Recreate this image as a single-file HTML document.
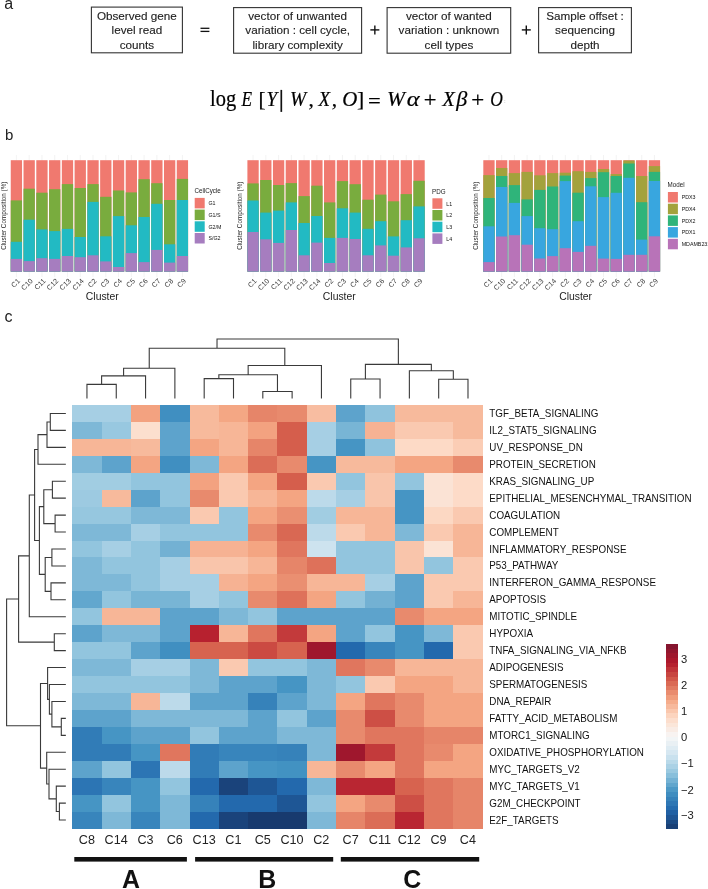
<!DOCTYPE html>
<html><head><meta charset="utf-8"><style>
html,body{margin:0;padding:0;background:#fff;}
svg{display:block;will-change:transform;}
</style></head><body>
<svg width="708" height="889" viewBox="0 0 708 889">
<rect width="708" height="889" fill="#fff"/>
<text x="4.2" y="8.9" font-size="16" font-family="Liberation Sans, sans-serif" fill="#222">a</text>
<rect x="91.4" y="7.1" width="91.0" height="45.7" fill="none" stroke="#333" stroke-width="1.1"/>
<text x="136.9" y="19.70" font-size="11.7" font-family="Liberation Sans, sans-serif" fill="#222" stroke="#222" stroke-width="0.12" text-anchor="middle">Observed gene</text>
<text x="136.9" y="34.40" font-size="11.7" font-family="Liberation Sans, sans-serif" fill="#222" stroke="#222" stroke-width="0.12" text-anchor="middle">level read</text>
<text x="136.9" y="49.10" font-size="11.7" font-family="Liberation Sans, sans-serif" fill="#222" stroke="#222" stroke-width="0.12" text-anchor="middle">counts</text>
<rect x="233.6" y="7.6" width="128.0" height="45.6" fill="none" stroke="#333" stroke-width="1.1"/>
<text x="297.6" y="19.70" font-size="11.7" font-family="Liberation Sans, sans-serif" fill="#222" stroke="#222" stroke-width="0.12" text-anchor="middle">vector of unwanted</text>
<text x="297.6" y="34.40" font-size="11.7" font-family="Liberation Sans, sans-serif" fill="#222" stroke="#222" stroke-width="0.12" text-anchor="middle">variation : cell cycle,</text>
<text x="297.6" y="49.10" font-size="11.7" font-family="Liberation Sans, sans-serif" fill="#222" stroke="#222" stroke-width="0.12" text-anchor="middle">library complexity</text>
<rect x="387.1" y="7.6" width="123.6" height="45.6" fill="none" stroke="#333" stroke-width="1.1"/>
<text x="448.9" y="19.70" font-size="11.7" font-family="Liberation Sans, sans-serif" fill="#222" stroke="#222" stroke-width="0.12" text-anchor="middle">vector of wanted</text>
<text x="448.9" y="34.40" font-size="11.7" font-family="Liberation Sans, sans-serif" fill="#222" stroke="#222" stroke-width="0.12" text-anchor="middle">variation : unknown</text>
<text x="448.9" y="49.10" font-size="11.7" font-family="Liberation Sans, sans-serif" fill="#222" stroke="#222" stroke-width="0.12" text-anchor="middle">cell types</text>
<rect x="538.6" y="7.6" width="92.8" height="45.2" fill="none" stroke="#333" stroke-width="1.1"/>
<text x="585.0" y="19.70" font-size="11.7" font-family="Liberation Sans, sans-serif" fill="#222" stroke="#222" stroke-width="0.12" text-anchor="middle">Sample offset :</text>
<text x="585.0" y="34.40" font-size="11.7" font-family="Liberation Sans, sans-serif" fill="#222" stroke="#222" stroke-width="0.12" text-anchor="middle">sequencing</text>
<text x="585.0" y="49.10" font-size="11.7" font-family="Liberation Sans, sans-serif" fill="#222" stroke="#222" stroke-width="0.12" text-anchor="middle">depth</text>
<line x1="200.5" y1="28.3" x2="209.4" y2="28.3" stroke="#111" stroke-width="1.3"/>
<line x1="200.5" y1="31.4" x2="209.4" y2="31.4" stroke="#111" stroke-width="1.3"/>
<line x1="370.35" y1="29.9" x2="379.35" y2="29.9" stroke="#111" stroke-width="1.4"/>
<line x1="374.85" y1="25.4" x2="374.85" y2="34.4" stroke="#111" stroke-width="1.4"/>
<line x1="521.8" y1="29.9" x2="530.8" y2="29.9" stroke="#111" stroke-width="1.4"/>
<line x1="526.3" y1="25.4" x2="526.3" y2="34.4" stroke="#111" stroke-width="1.4"/>
<text transform="translate(209.99,106.30) scale(0.951,1.060)" font-size="21.5" font-family="Liberation Serif, serif" fill="#000" stroke="#000" stroke-width="0.22">log</text>
<text transform="translate(241.61,106.30) scale(0.806,1.000)" font-size="21.5" font-family="Liberation Serif, serif" font-style="italic" fill="#000" stroke="#000" stroke-width="0.22">E</text>
<text transform="translate(258.41,106.30) scale(1.000,1.000)" font-size="21.5" font-family="Liberation Serif, serif" fill="#000" stroke="#000" stroke-width="0.22">[</text>
<text transform="translate(266.60,106.30) scale(0.895,1.000)" font-size="21.5" font-family="Liberation Serif, serif" font-style="italic" fill="#000" stroke="#000" stroke-width="0.22">Y</text>
<line x1="281.3" y1="89.9" x2="281.3" y2="111.9" stroke="#111" stroke-width="1.7"/>
<text transform="translate(290.01,106.30) scale(0.906,1.000)" font-size="21.5" font-family="Liberation Serif, serif" font-style="italic" fill="#000" stroke="#000" stroke-width="0.22">W</text>
<text transform="translate(308.58,106.30) scale(1.000,1.000)" font-size="21.5" font-family="Liberation Serif, serif" fill="#000" stroke="#000" stroke-width="0.22">,</text>
<text transform="translate(318.52,106.30) scale(0.875,1.000)" font-size="21.5" font-family="Liberation Serif, serif" font-style="italic" fill="#000" stroke="#000" stroke-width="0.22">X</text>
<text transform="translate(331.68,106.30) scale(1.000,1.000)" font-size="21.5" font-family="Liberation Serif, serif" fill="#000" stroke="#000" stroke-width="0.22">,</text>
<text transform="translate(342.26,106.30) scale(0.969,1.000)" font-size="21.5" font-family="Liberation Serif, serif" font-style="italic" fill="#000" stroke="#000" stroke-width="0.22">O</text>
<text transform="translate(357.03,106.30) scale(1.000,1.000)" font-size="21.5" font-family="Liberation Serif, serif" fill="#000" stroke="#000" stroke-width="0.22">]</text>
<text transform="translate(367.97,108.00) scale(1.050,1.000)" font-size="21.5" font-family="Liberation Serif, serif" fill="#000" stroke="#000" stroke-width="0.22">=</text>
<text transform="translate(386.88,106.30) scale(1.000,1.000)" font-size="21.5" font-family="Liberation Serif, serif" font-style="italic" fill="#000" stroke="#000" stroke-width="0.22">W</text>
<text transform="translate(406.77,106.30) scale(1.138,1.000)" font-size="21.5" font-family="Liberation Serif, serif" font-style="italic" fill="#000" stroke="#000" stroke-width="0.22">α</text>
<text transform="translate(423.67,107.20) scale(1.050,1.000)" font-size="21.5" font-family="Liberation Serif, serif" fill="#000" stroke="#000" stroke-width="0.22">+</text>
<text transform="translate(442.56,106.30) scale(0.930,1.000)" font-size="21.5" font-family="Liberation Serif, serif" font-style="italic" fill="#000" stroke="#000" stroke-width="0.22">X</text>
<text transform="translate(456.35,106.30) scale(1.027,1.000)" font-size="21.5" font-family="Liberation Serif, serif" font-style="italic" fill="#000" stroke="#000" stroke-width="0.22">β</text>
<text transform="translate(471.25,107.20) scale(1.070,1.000)" font-size="21.5" font-family="Liberation Serif, serif" fill="#000" stroke="#000" stroke-width="0.22">+</text>
<text transform="translate(490.13,106.30) scale(0.811,1.000)" font-size="21.5" font-family="Liberation Serif, serif" font-style="italic" fill="#000" stroke="#000" stroke-width="0.22">O</text>
<text x="504" y="103" font-size="6" font-family="Liberation Serif, serif" fill="#bbb">:</text>
<text x="5" y="139.8" font-size="15" font-family="Liberation Sans, sans-serif" fill="#222">b</text>
<line x1="16.40" y1="155" x2="16.40" y2="277" stroke="#ebebeb" stroke-width="0.6"/>
<line x1="29.17" y1="155" x2="29.17" y2="277" stroke="#ebebeb" stroke-width="0.6"/>
<line x1="41.94" y1="155" x2="41.94" y2="277" stroke="#ebebeb" stroke-width="0.6"/>
<line x1="54.71" y1="155" x2="54.71" y2="277" stroke="#ebebeb" stroke-width="0.6"/>
<line x1="67.48" y1="155" x2="67.48" y2="277" stroke="#ebebeb" stroke-width="0.6"/>
<line x1="80.25" y1="155" x2="80.25" y2="277" stroke="#ebebeb" stroke-width="0.6"/>
<line x1="93.02" y1="155" x2="93.02" y2="277" stroke="#ebebeb" stroke-width="0.6"/>
<line x1="105.79" y1="155" x2="105.79" y2="277" stroke="#ebebeb" stroke-width="0.6"/>
<line x1="118.56" y1="155" x2="118.56" y2="277" stroke="#ebebeb" stroke-width="0.6"/>
<line x1="131.33" y1="155" x2="131.33" y2="277" stroke="#ebebeb" stroke-width="0.6"/>
<line x1="144.10" y1="155" x2="144.10" y2="277" stroke="#ebebeb" stroke-width="0.6"/>
<line x1="156.87" y1="155" x2="156.87" y2="277" stroke="#ebebeb" stroke-width="0.6"/>
<line x1="169.64" y1="155" x2="169.64" y2="277" stroke="#ebebeb" stroke-width="0.6"/>
<line x1="182.41" y1="155" x2="182.41" y2="277" stroke="#ebebeb" stroke-width="0.6"/>
<rect x="10.75" y="160.20" width="11.3" height="111.40" fill="#F0796F"/>
<rect x="10.75" y="200.40" width="11.3" height="71.20" fill="#79AC3E"/>
<rect x="10.75" y="241.80" width="11.3" height="29.80" fill="#22BAC3"/>
<rect x="10.75" y="258.90" width="11.3" height="12.70" fill="#A67DBF"/>
<text transform="translate(17.10,278.1) rotate(-45)" font-size="7.1" font-family="Liberation Sans, sans-serif" fill="#3a3a3a" text-anchor="end" dominant-baseline="hanging">C1</text>
<rect x="23.52" y="160.20" width="11.3" height="111.40" fill="#F0796F"/>
<rect x="23.52" y="188.70" width="11.3" height="82.90" fill="#79AC3E"/>
<rect x="23.52" y="219.70" width="11.3" height="51.90" fill="#22BAC3"/>
<rect x="23.52" y="261.10" width="11.3" height="10.50" fill="#A67DBF"/>
<text transform="translate(29.87,278.1) rotate(-45)" font-size="7.1" font-family="Liberation Sans, sans-serif" fill="#3a3a3a" text-anchor="end" dominant-baseline="hanging">C10</text>
<rect x="36.29" y="160.20" width="11.3" height="111.40" fill="#F0796F"/>
<rect x="36.29" y="192.70" width="11.3" height="78.90" fill="#79AC3E"/>
<rect x="36.29" y="229.40" width="11.3" height="42.20" fill="#22BAC3"/>
<rect x="36.29" y="258.20" width="11.3" height="13.40" fill="#A67DBF"/>
<text transform="translate(42.64,278.1) rotate(-45)" font-size="7.1" font-family="Liberation Sans, sans-serif" fill="#3a3a3a" text-anchor="end" dominant-baseline="hanging">C11</text>
<rect x="49.06" y="160.20" width="11.3" height="111.40" fill="#F0796F"/>
<rect x="49.06" y="189.20" width="11.3" height="82.40" fill="#79AC3E"/>
<rect x="49.06" y="231.10" width="11.3" height="40.50" fill="#22BAC3"/>
<rect x="49.06" y="258.90" width="11.3" height="12.70" fill="#A67DBF"/>
<text transform="translate(55.41,278.1) rotate(-45)" font-size="7.1" font-family="Liberation Sans, sans-serif" fill="#3a3a3a" text-anchor="end" dominant-baseline="hanging">C12</text>
<rect x="61.83" y="160.20" width="11.3" height="111.40" fill="#F0796F"/>
<rect x="61.83" y="184.10" width="11.3" height="87.50" fill="#79AC3E"/>
<rect x="61.83" y="228.90" width="11.3" height="42.70" fill="#22BAC3"/>
<rect x="61.83" y="256.00" width="11.3" height="15.60" fill="#A67DBF"/>
<text transform="translate(68.18,278.1) rotate(-45)" font-size="7.1" font-family="Liberation Sans, sans-serif" fill="#3a3a3a" text-anchor="end" dominant-baseline="hanging">C13</text>
<rect x="74.60" y="160.20" width="11.3" height="111.40" fill="#F0796F"/>
<rect x="74.60" y="188.00" width="11.3" height="83.60" fill="#79AC3E"/>
<rect x="74.60" y="237.00" width="11.3" height="34.60" fill="#22BAC3"/>
<rect x="74.60" y="257.20" width="11.3" height="14.40" fill="#A67DBF"/>
<text transform="translate(80.95,278.1) rotate(-45)" font-size="7.1" font-family="Liberation Sans, sans-serif" fill="#3a3a3a" text-anchor="end" dominant-baseline="hanging">C14</text>
<rect x="87.37" y="160.20" width="11.3" height="111.40" fill="#F0796F"/>
<rect x="87.37" y="184.10" width="11.3" height="87.50" fill="#79AC3E"/>
<rect x="87.37" y="201.90" width="11.3" height="69.70" fill="#22BAC3"/>
<rect x="87.37" y="255.30" width="11.3" height="16.30" fill="#A67DBF"/>
<text transform="translate(93.72,278.1) rotate(-45)" font-size="7.1" font-family="Liberation Sans, sans-serif" fill="#3a3a3a" text-anchor="end" dominant-baseline="hanging">C2</text>
<rect x="100.14" y="160.20" width="11.3" height="111.40" fill="#F0796F"/>
<rect x="100.14" y="196.80" width="11.3" height="74.80" fill="#79AC3E"/>
<rect x="100.14" y="236.30" width="11.3" height="35.30" fill="#22BAC3"/>
<rect x="100.14" y="261.40" width="11.3" height="10.20" fill="#A67DBF"/>
<text transform="translate(106.49,278.1) rotate(-45)" font-size="7.1" font-family="Liberation Sans, sans-serif" fill="#3a3a3a" text-anchor="end" dominant-baseline="hanging">C3</text>
<rect x="112.91" y="160.20" width="11.3" height="111.40" fill="#F0796F"/>
<rect x="112.91" y="190.50" width="11.3" height="81.10" fill="#79AC3E"/>
<rect x="112.91" y="216.10" width="11.3" height="55.50" fill="#22BAC3"/>
<rect x="112.91" y="267.00" width="11.3" height="4.60" fill="#A67DBF"/>
<text transform="translate(119.26,278.1) rotate(-45)" font-size="7.1" font-family="Liberation Sans, sans-serif" fill="#3a3a3a" text-anchor="end" dominant-baseline="hanging">C4</text>
<rect x="125.68" y="160.20" width="11.3" height="111.40" fill="#F0796F"/>
<rect x="125.68" y="192.40" width="11.3" height="79.20" fill="#79AC3E"/>
<rect x="125.68" y="225.30" width="11.3" height="46.30" fill="#22BAC3"/>
<rect x="125.68" y="253.10" width="11.3" height="18.50" fill="#A67DBF"/>
<text transform="translate(132.03,278.1) rotate(-45)" font-size="7.1" font-family="Liberation Sans, sans-serif" fill="#3a3a3a" text-anchor="end" dominant-baseline="hanging">C5</text>
<rect x="138.45" y="160.20" width="11.3" height="111.40" fill="#F0796F"/>
<rect x="138.45" y="179.20" width="11.3" height="92.40" fill="#79AC3E"/>
<rect x="138.45" y="217.00" width="11.3" height="54.60" fill="#22BAC3"/>
<rect x="138.45" y="262.10" width="11.3" height="9.50" fill="#A67DBF"/>
<text transform="translate(144.80,278.1) rotate(-45)" font-size="7.1" font-family="Liberation Sans, sans-serif" fill="#3a3a3a" text-anchor="end" dominant-baseline="hanging">C6</text>
<rect x="151.22" y="160.20" width="11.3" height="111.40" fill="#F0796F"/>
<rect x="151.22" y="183.20" width="11.3" height="88.40" fill="#79AC3E"/>
<rect x="151.22" y="203.80" width="11.3" height="67.80" fill="#22BAC3"/>
<rect x="151.22" y="249.90" width="11.3" height="21.70" fill="#A67DBF"/>
<text transform="translate(157.57,278.1) rotate(-45)" font-size="7.1" font-family="Liberation Sans, sans-serif" fill="#3a3a3a" text-anchor="end" dominant-baseline="hanging">C7</text>
<rect x="163.99" y="160.20" width="11.3" height="111.40" fill="#F0796F"/>
<rect x="163.99" y="200.00" width="11.3" height="71.60" fill="#79AC3E"/>
<rect x="163.99" y="244.30" width="11.3" height="27.30" fill="#22BAC3"/>
<rect x="163.99" y="262.60" width="11.3" height="9.00" fill="#A67DBF"/>
<text transform="translate(170.34,278.1) rotate(-45)" font-size="7.1" font-family="Liberation Sans, sans-serif" fill="#3a3a3a" text-anchor="end" dominant-baseline="hanging">C8</text>
<rect x="176.76" y="160.20" width="11.3" height="111.40" fill="#F0796F"/>
<rect x="176.76" y="178.90" width="11.3" height="92.70" fill="#79AC3E"/>
<rect x="176.76" y="200.00" width="11.3" height="71.60" fill="#22BAC3"/>
<rect x="176.76" y="256.00" width="11.3" height="15.60" fill="#A67DBF"/>
<text transform="translate(183.11,278.1) rotate(-45)" font-size="7.1" font-family="Liberation Sans, sans-serif" fill="#3a3a3a" text-anchor="end" dominant-baseline="hanging">C9</text>
<text transform="translate(6.0,215.7) rotate(-90)" font-size="6.3" font-family="Liberation Sans, sans-serif" fill="#222" text-anchor="middle">Cluster Composition (%)</text>
<text x="102.3" y="299.5" font-size="10.4" font-family="Liberation Sans, sans-serif" fill="#222" text-anchor="middle">Cluster</text>
<text transform="translate(194.4,193.2) scale(0.95,1)" font-size="6.6" font-family="Liberation Sans, sans-serif" fill="#222">CellCycle</text>
<rect x="194.70000000000002" y="197.90" width="10" height="10.5" fill="#F0796F"/>
<text x="208.5" y="205.10" font-size="5.3" font-family="Liberation Sans, sans-serif" fill="#111">G1</text>
<rect x="194.70000000000002" y="209.60" width="10" height="10.5" fill="#79AC3E"/>
<text x="208.5" y="216.80" font-size="5.3" font-family="Liberation Sans, sans-serif" fill="#111">G1/S</text>
<rect x="194.70000000000002" y="221.30" width="10" height="10.5" fill="#22BAC3"/>
<text x="208.5" y="228.50" font-size="5.3" font-family="Liberation Sans, sans-serif" fill="#111">G2/M</text>
<rect x="194.70000000000002" y="233.00" width="10" height="10.5" fill="#A67DBF"/>
<text x="208.5" y="240.20" font-size="5.3" font-family="Liberation Sans, sans-serif" fill="#111">S/G2</text>
<line x1="253.05" y1="155" x2="253.05" y2="277" stroke="#ebebeb" stroke-width="0.6"/>
<line x1="265.82" y1="155" x2="265.82" y2="277" stroke="#ebebeb" stroke-width="0.6"/>
<line x1="278.59" y1="155" x2="278.59" y2="277" stroke="#ebebeb" stroke-width="0.6"/>
<line x1="291.36" y1="155" x2="291.36" y2="277" stroke="#ebebeb" stroke-width="0.6"/>
<line x1="304.13" y1="155" x2="304.13" y2="277" stroke="#ebebeb" stroke-width="0.6"/>
<line x1="316.90" y1="155" x2="316.90" y2="277" stroke="#ebebeb" stroke-width="0.6"/>
<line x1="329.67" y1="155" x2="329.67" y2="277" stroke="#ebebeb" stroke-width="0.6"/>
<line x1="342.44" y1="155" x2="342.44" y2="277" stroke="#ebebeb" stroke-width="0.6"/>
<line x1="355.21" y1="155" x2="355.21" y2="277" stroke="#ebebeb" stroke-width="0.6"/>
<line x1="367.98" y1="155" x2="367.98" y2="277" stroke="#ebebeb" stroke-width="0.6"/>
<line x1="380.75" y1="155" x2="380.75" y2="277" stroke="#ebebeb" stroke-width="0.6"/>
<line x1="393.52" y1="155" x2="393.52" y2="277" stroke="#ebebeb" stroke-width="0.6"/>
<line x1="406.29" y1="155" x2="406.29" y2="277" stroke="#ebebeb" stroke-width="0.6"/>
<line x1="419.06" y1="155" x2="419.06" y2="277" stroke="#ebebeb" stroke-width="0.6"/>
<rect x="247.40" y="160.20" width="11.3" height="111.40" fill="#F0796F"/>
<rect x="247.40" y="183.40" width="11.3" height="88.20" fill="#79AC3E"/>
<rect x="247.40" y="200.50" width="11.3" height="71.10" fill="#22BAC3"/>
<rect x="247.40" y="232.00" width="11.3" height="39.60" fill="#A67DBF"/>
<text transform="translate(253.75,278.1) rotate(-45)" font-size="7.1" font-family="Liberation Sans, sans-serif" fill="#3a3a3a" text-anchor="end" dominant-baseline="hanging">C1</text>
<rect x="260.17" y="160.20" width="11.3" height="111.40" fill="#F0796F"/>
<rect x="260.17" y="180.00" width="11.3" height="91.60" fill="#79AC3E"/>
<rect x="260.17" y="212.60" width="11.3" height="59.00" fill="#22BAC3"/>
<rect x="260.17" y="239.30" width="11.3" height="32.30" fill="#A67DBF"/>
<text transform="translate(266.52,278.1) rotate(-45)" font-size="7.1" font-family="Liberation Sans, sans-serif" fill="#3a3a3a" text-anchor="end" dominant-baseline="hanging">C10</text>
<rect x="272.94" y="160.20" width="11.3" height="111.40" fill="#F0796F"/>
<rect x="272.94" y="185.00" width="11.3" height="86.60" fill="#79AC3E"/>
<rect x="272.94" y="210.60" width="11.3" height="61.00" fill="#22BAC3"/>
<rect x="272.94" y="242.90" width="11.3" height="28.70" fill="#A67DBF"/>
<text transform="translate(279.29,278.1) rotate(-45)" font-size="7.1" font-family="Liberation Sans, sans-serif" fill="#3a3a3a" text-anchor="end" dominant-baseline="hanging">C11</text>
<rect x="285.71" y="160.20" width="11.3" height="111.40" fill="#F0796F"/>
<rect x="285.71" y="183.10" width="11.3" height="88.50" fill="#79AC3E"/>
<rect x="285.71" y="202.40" width="11.3" height="69.20" fill="#22BAC3"/>
<rect x="285.71" y="230.00" width="11.3" height="41.60" fill="#A67DBF"/>
<text transform="translate(292.06,278.1) rotate(-45)" font-size="7.1" font-family="Liberation Sans, sans-serif" fill="#3a3a3a" text-anchor="end" dominant-baseline="hanging">C12</text>
<rect x="298.48" y="160.20" width="11.3" height="111.40" fill="#F0796F"/>
<rect x="298.48" y="196.10" width="11.3" height="75.50" fill="#79AC3E"/>
<rect x="298.48" y="223.00" width="11.3" height="48.60" fill="#22BAC3"/>
<rect x="298.48" y="255.30" width="11.3" height="16.30" fill="#A67DBF"/>
<text transform="translate(304.83,278.1) rotate(-45)" font-size="7.1" font-family="Liberation Sans, sans-serif" fill="#3a3a3a" text-anchor="end" dominant-baseline="hanging">C13</text>
<rect x="311.25" y="160.20" width="11.3" height="111.40" fill="#F0796F"/>
<rect x="311.25" y="185.70" width="11.3" height="85.90" fill="#79AC3E"/>
<rect x="311.25" y="216.00" width="11.3" height="55.60" fill="#22BAC3"/>
<rect x="311.25" y="242.60" width="11.3" height="29.00" fill="#A67DBF"/>
<text transform="translate(317.60,278.1) rotate(-45)" font-size="7.1" font-family="Liberation Sans, sans-serif" fill="#3a3a3a" text-anchor="end" dominant-baseline="hanging">C14</text>
<rect x="324.02" y="160.20" width="11.3" height="111.40" fill="#F0796F"/>
<rect x="324.02" y="202.40" width="11.3" height="69.20" fill="#79AC3E"/>
<rect x="324.02" y="237.90" width="11.3" height="33.70" fill="#22BAC3"/>
<rect x="324.02" y="263.00" width="11.3" height="8.60" fill="#A67DBF"/>
<text transform="translate(330.37,278.1) rotate(-45)" font-size="7.1" font-family="Liberation Sans, sans-serif" fill="#3a3a3a" text-anchor="end" dominant-baseline="hanging">C2</text>
<rect x="336.79" y="160.20" width="11.3" height="111.40" fill="#F0796F"/>
<rect x="336.79" y="181.10" width="11.3" height="90.50" fill="#79AC3E"/>
<rect x="336.79" y="208.30" width="11.3" height="63.30" fill="#22BAC3"/>
<rect x="336.79" y="237.90" width="11.3" height="33.70" fill="#A67DBF"/>
<text transform="translate(343.14,278.1) rotate(-45)" font-size="7.1" font-family="Liberation Sans, sans-serif" fill="#3a3a3a" text-anchor="end" dominant-baseline="hanging">C3</text>
<rect x="349.56" y="160.20" width="11.3" height="111.40" fill="#F0796F"/>
<rect x="349.56" y="184.20" width="11.3" height="87.40" fill="#79AC3E"/>
<rect x="349.56" y="212.60" width="11.3" height="59.00" fill="#22BAC3"/>
<rect x="349.56" y="239.00" width="11.3" height="32.60" fill="#A67DBF"/>
<text transform="translate(355.91,278.1) rotate(-45)" font-size="7.1" font-family="Liberation Sans, sans-serif" fill="#3a3a3a" text-anchor="end" dominant-baseline="hanging">C4</text>
<rect x="362.33" y="160.20" width="11.3" height="111.40" fill="#F0796F"/>
<rect x="362.33" y="199.70" width="11.3" height="71.90" fill="#79AC3E"/>
<rect x="362.33" y="228.80" width="11.3" height="42.80" fill="#22BAC3"/>
<rect x="362.33" y="255.30" width="11.3" height="16.30" fill="#A67DBF"/>
<text transform="translate(368.68,278.1) rotate(-45)" font-size="7.1" font-family="Liberation Sans, sans-serif" fill="#3a3a3a" text-anchor="end" dominant-baseline="hanging">C5</text>
<rect x="375.10" y="160.20" width="11.3" height="111.40" fill="#F0796F"/>
<rect x="375.10" y="194.60" width="11.3" height="77.00" fill="#79AC3E"/>
<rect x="375.10" y="221.20" width="11.3" height="50.40" fill="#22BAC3"/>
<rect x="375.10" y="245.40" width="11.3" height="26.20" fill="#A67DBF"/>
<text transform="translate(381.45,278.1) rotate(-45)" font-size="7.1" font-family="Liberation Sans, sans-serif" fill="#3a3a3a" text-anchor="end" dominant-baseline="hanging">C6</text>
<rect x="387.87" y="160.20" width="11.3" height="111.40" fill="#F0796F"/>
<rect x="387.87" y="201.30" width="11.3" height="70.30" fill="#79AC3E"/>
<rect x="387.87" y="236.40" width="11.3" height="35.20" fill="#22BAC3"/>
<rect x="387.87" y="255.70" width="11.3" height="15.90" fill="#A67DBF"/>
<text transform="translate(394.22,278.1) rotate(-45)" font-size="7.1" font-family="Liberation Sans, sans-serif" fill="#3a3a3a" text-anchor="end" dominant-baseline="hanging">C7</text>
<rect x="400.64" y="160.20" width="11.3" height="111.40" fill="#F0796F"/>
<rect x="400.64" y="194.10" width="11.3" height="77.50" fill="#79AC3E"/>
<rect x="400.64" y="220.20" width="11.3" height="51.40" fill="#22BAC3"/>
<rect x="400.64" y="247.40" width="11.3" height="24.20" fill="#A67DBF"/>
<text transform="translate(406.99,278.1) rotate(-45)" font-size="7.1" font-family="Liberation Sans, sans-serif" fill="#3a3a3a" text-anchor="end" dominant-baseline="hanging">C8</text>
<rect x="413.41" y="160.20" width="11.3" height="111.40" fill="#F0796F"/>
<rect x="413.41" y="180.80" width="11.3" height="90.80" fill="#79AC3E"/>
<rect x="413.41" y="206.40" width="11.3" height="65.20" fill="#22BAC3"/>
<rect x="413.41" y="238.30" width="11.3" height="33.30" fill="#A67DBF"/>
<text transform="translate(419.76,278.1) rotate(-45)" font-size="7.1" font-family="Liberation Sans, sans-serif" fill="#3a3a3a" text-anchor="end" dominant-baseline="hanging">C9</text>
<text transform="translate(242.0,215.7) rotate(-90)" font-size="6.3" font-family="Liberation Sans, sans-serif" fill="#222" text-anchor="middle">Cluster Composition (%)</text>
<text x="339.3" y="299.5" font-size="10.4" font-family="Liberation Sans, sans-serif" fill="#222" text-anchor="middle">Cluster</text>
<text transform="translate(432.1,193.6) scale(0.95,1)" font-size="6.6" font-family="Liberation Sans, sans-serif" fill="#222">PDG</text>
<rect x="432.40000000000003" y="198.30" width="10" height="10.5" fill="#F0796F"/>
<text x="446.20000000000005" y="205.50" font-size="5.3" font-family="Liberation Sans, sans-serif" fill="#111">L1</text>
<rect x="432.40000000000003" y="210.00" width="10" height="10.5" fill="#79AC3E"/>
<text x="446.20000000000005" y="217.20" font-size="5.3" font-family="Liberation Sans, sans-serif" fill="#111">L2</text>
<rect x="432.40000000000003" y="221.70" width="10" height="10.5" fill="#22BAC3"/>
<text x="446.20000000000005" y="228.90" font-size="5.3" font-family="Liberation Sans, sans-serif" fill="#111">L3</text>
<rect x="432.40000000000003" y="233.40" width="10" height="10.5" fill="#A67DBF"/>
<text x="446.20000000000005" y="240.60" font-size="5.3" font-family="Liberation Sans, sans-serif" fill="#111">L4</text>
<line x1="488.95" y1="155" x2="488.95" y2="277" stroke="#ebebeb" stroke-width="0.6"/>
<line x1="501.68" y1="155" x2="501.68" y2="277" stroke="#ebebeb" stroke-width="0.6"/>
<line x1="514.41" y1="155" x2="514.41" y2="277" stroke="#ebebeb" stroke-width="0.6"/>
<line x1="527.14" y1="155" x2="527.14" y2="277" stroke="#ebebeb" stroke-width="0.6"/>
<line x1="539.87" y1="155" x2="539.87" y2="277" stroke="#ebebeb" stroke-width="0.6"/>
<line x1="552.60" y1="155" x2="552.60" y2="277" stroke="#ebebeb" stroke-width="0.6"/>
<line x1="565.33" y1="155" x2="565.33" y2="277" stroke="#ebebeb" stroke-width="0.6"/>
<line x1="578.06" y1="155" x2="578.06" y2="277" stroke="#ebebeb" stroke-width="0.6"/>
<line x1="590.79" y1="155" x2="590.79" y2="277" stroke="#ebebeb" stroke-width="0.6"/>
<line x1="603.52" y1="155" x2="603.52" y2="277" stroke="#ebebeb" stroke-width="0.6"/>
<line x1="616.25" y1="155" x2="616.25" y2="277" stroke="#ebebeb" stroke-width="0.6"/>
<line x1="628.98" y1="155" x2="628.98" y2="277" stroke="#ebebeb" stroke-width="0.6"/>
<line x1="641.71" y1="155" x2="641.71" y2="277" stroke="#ebebeb" stroke-width="0.6"/>
<line x1="654.44" y1="155" x2="654.44" y2="277" stroke="#ebebeb" stroke-width="0.6"/>
<rect x="483.30" y="160.20" width="11.3" height="111.40" fill="#F0796F"/>
<rect x="483.30" y="175.10" width="11.3" height="96.50" fill="#A3A23C"/>
<rect x="483.30" y="198.00" width="11.3" height="73.60" fill="#2FB47A"/>
<rect x="483.30" y="226.30" width="11.3" height="45.30" fill="#38A6DF"/>
<rect x="483.30" y="262.10" width="11.3" height="9.50" fill="#B873B8"/>
<text transform="translate(489.65,278.1) rotate(-45)" font-size="7.1" font-family="Liberation Sans, sans-serif" fill="#3a3a3a" text-anchor="end" dominant-baseline="hanging">C1</text>
<rect x="496.03" y="160.20" width="11.3" height="111.40" fill="#F0796F"/>
<rect x="496.03" y="168.00" width="11.3" height="103.60" fill="#A3A23C"/>
<rect x="496.03" y="176.00" width="11.3" height="95.60" fill="#2FB47A"/>
<rect x="496.03" y="187.00" width="11.3" height="84.60" fill="#38A6DF"/>
<rect x="496.03" y="236.50" width="11.3" height="35.10" fill="#B873B8"/>
<text transform="translate(502.38,278.1) rotate(-45)" font-size="7.1" font-family="Liberation Sans, sans-serif" fill="#3a3a3a" text-anchor="end" dominant-baseline="hanging">C10</text>
<rect x="508.76" y="160.20" width="11.3" height="111.40" fill="#F0796F"/>
<rect x="508.76" y="173.10" width="11.3" height="98.50" fill="#A3A23C"/>
<rect x="508.76" y="185.10" width="11.3" height="86.50" fill="#2FB47A"/>
<rect x="508.76" y="202.90" width="11.3" height="68.70" fill="#38A6DF"/>
<rect x="508.76" y="235.20" width="11.3" height="36.40" fill="#B873B8"/>
<text transform="translate(515.11,278.1) rotate(-45)" font-size="7.1" font-family="Liberation Sans, sans-serif" fill="#3a3a3a" text-anchor="end" dominant-baseline="hanging">C11</text>
<rect x="521.49" y="160.20" width="11.3" height="111.40" fill="#F0796F"/>
<rect x="521.49" y="171.90" width="11.3" height="99.70" fill="#A3A23C"/>
<rect x="521.49" y="199.40" width="11.3" height="72.20" fill="#2FB47A"/>
<rect x="521.49" y="216.10" width="11.3" height="55.50" fill="#38A6DF"/>
<rect x="521.49" y="244.70" width="11.3" height="26.90" fill="#B873B8"/>
<text transform="translate(527.84,278.1) rotate(-45)" font-size="7.1" font-family="Liberation Sans, sans-serif" fill="#3a3a3a" text-anchor="end" dominant-baseline="hanging">C12</text>
<rect x="534.22" y="160.20" width="11.3" height="111.40" fill="#F0796F"/>
<rect x="534.22" y="175.30" width="11.3" height="96.30" fill="#A3A23C"/>
<rect x="534.22" y="189.90" width="11.3" height="81.70" fill="#2FB47A"/>
<rect x="534.22" y="228.20" width="11.3" height="43.40" fill="#38A6DF"/>
<rect x="534.22" y="258.50" width="11.3" height="13.10" fill="#B873B8"/>
<text transform="translate(540.57,278.1) rotate(-45)" font-size="7.1" font-family="Liberation Sans, sans-serif" fill="#3a3a3a" text-anchor="end" dominant-baseline="hanging">C13</text>
<rect x="546.95" y="160.20" width="11.3" height="111.40" fill="#F0796F"/>
<rect x="546.95" y="173.10" width="11.3" height="98.50" fill="#A3A23C"/>
<rect x="546.95" y="186.50" width="11.3" height="85.10" fill="#2FB47A"/>
<rect x="546.95" y="229.20" width="11.3" height="42.40" fill="#38A6DF"/>
<rect x="546.95" y="256.10" width="11.3" height="15.50" fill="#B873B8"/>
<text transform="translate(553.30,278.1) rotate(-45)" font-size="7.1" font-family="Liberation Sans, sans-serif" fill="#3a3a3a" text-anchor="end" dominant-baseline="hanging">C14</text>
<rect x="559.68" y="160.20" width="11.3" height="111.40" fill="#F0796F"/>
<rect x="559.68" y="172.70" width="11.3" height="98.90" fill="#A3A23C"/>
<rect x="559.68" y="175.60" width="11.3" height="96.00" fill="#2FB47A"/>
<rect x="559.68" y="181.10" width="11.3" height="90.50" fill="#38A6DF"/>
<rect x="559.68" y="248.20" width="11.3" height="23.40" fill="#B873B8"/>
<text transform="translate(566.03,278.1) rotate(-45)" font-size="7.1" font-family="Liberation Sans, sans-serif" fill="#3a3a3a" text-anchor="end" dominant-baseline="hanging">C2</text>
<rect x="572.41" y="160.20" width="11.3" height="111.40" fill="#F0796F"/>
<rect x="572.41" y="171.20" width="11.3" height="100.40" fill="#A3A23C"/>
<rect x="572.41" y="192.70" width="11.3" height="78.90" fill="#2FB47A"/>
<rect x="572.41" y="221.20" width="11.3" height="50.40" fill="#38A6DF"/>
<rect x="572.41" y="251.90" width="11.3" height="19.70" fill="#B873B8"/>
<text transform="translate(578.76,278.1) rotate(-45)" font-size="7.1" font-family="Liberation Sans, sans-serif" fill="#3a3a3a" text-anchor="end" dominant-baseline="hanging">C3</text>
<rect x="585.14" y="160.20" width="11.3" height="111.40" fill="#F0796F"/>
<rect x="585.14" y="171.90" width="11.3" height="99.70" fill="#A3A23C"/>
<rect x="585.14" y="178.10" width="11.3" height="93.50" fill="#2FB47A"/>
<rect x="585.14" y="186.30" width="11.3" height="85.30" fill="#38A6DF"/>
<rect x="585.14" y="245.80" width="11.3" height="25.80" fill="#B873B8"/>
<text transform="translate(591.49,278.1) rotate(-45)" font-size="7.1" font-family="Liberation Sans, sans-serif" fill="#3a3a3a" text-anchor="end" dominant-baseline="hanging">C4</text>
<rect x="597.87" y="160.20" width="11.3" height="111.40" fill="#F0796F"/>
<rect x="597.87" y="169.00" width="11.3" height="102.60" fill="#A3A23C"/>
<rect x="597.87" y="172.20" width="11.3" height="99.40" fill="#2FB47A"/>
<rect x="597.87" y="197.10" width="11.3" height="74.50" fill="#38A6DF"/>
<rect x="597.87" y="258.60" width="11.3" height="13.00" fill="#B873B8"/>
<text transform="translate(604.22,278.1) rotate(-45)" font-size="7.1" font-family="Liberation Sans, sans-serif" fill="#3a3a3a" text-anchor="end" dominant-baseline="hanging">C5</text>
<rect x="610.60" y="160.20" width="11.3" height="111.40" fill="#F0796F"/>
<rect x="610.60" y="174.10" width="11.3" height="97.50" fill="#A3A23C"/>
<rect x="610.60" y="176.00" width="11.3" height="95.60" fill="#2FB47A"/>
<rect x="610.60" y="192.80" width="11.3" height="78.80" fill="#38A6DF"/>
<rect x="610.60" y="258.90" width="11.3" height="12.70" fill="#B873B8"/>
<text transform="translate(616.95,278.1) rotate(-45)" font-size="7.1" font-family="Liberation Sans, sans-serif" fill="#3a3a3a" text-anchor="end" dominant-baseline="hanging">C6</text>
<rect x="623.33" y="160.20" width="11.3" height="111.40" fill="#F0796F"/>
<rect x="623.33" y="160.50" width="11.3" height="111.10" fill="#A3A23C"/>
<rect x="623.33" y="163.50" width="11.3" height="108.10" fill="#2FB47A"/>
<rect x="623.33" y="177.80" width="11.3" height="93.80" fill="#38A6DF"/>
<rect x="623.33" y="254.80" width="11.3" height="16.80" fill="#B873B8"/>
<text transform="translate(629.68,278.1) rotate(-45)" font-size="7.1" font-family="Liberation Sans, sans-serif" fill="#3a3a3a" text-anchor="end" dominant-baseline="hanging">C7</text>
<rect x="636.06" y="160.20" width="11.3" height="111.40" fill="#F0796F"/>
<rect x="636.06" y="176.00" width="11.3" height="95.60" fill="#A3A23C"/>
<rect x="636.06" y="202.20" width="11.3" height="69.40" fill="#2FB47A"/>
<rect x="636.06" y="239.60" width="11.3" height="32.00" fill="#38A6DF"/>
<rect x="636.06" y="254.80" width="11.3" height="16.80" fill="#B873B8"/>
<text transform="translate(642.41,278.1) rotate(-45)" font-size="7.1" font-family="Liberation Sans, sans-serif" fill="#3a3a3a" text-anchor="end" dominant-baseline="hanging">C8</text>
<rect x="648.79" y="160.20" width="11.3" height="111.40" fill="#F0796F"/>
<rect x="648.79" y="166.10" width="11.3" height="105.50" fill="#A3A23C"/>
<rect x="648.79" y="171.90" width="11.3" height="99.70" fill="#2FB47A"/>
<rect x="648.79" y="181.00" width="11.3" height="90.60" fill="#38A6DF"/>
<rect x="648.79" y="236.30" width="11.3" height="35.30" fill="#B873B8"/>
<text transform="translate(655.14,278.1) rotate(-45)" font-size="7.1" font-family="Liberation Sans, sans-serif" fill="#3a3a3a" text-anchor="end" dominant-baseline="hanging">C9</text>
<text transform="translate(478.2,215.7) rotate(-90)" font-size="6.3" font-family="Liberation Sans, sans-serif" fill="#222" text-anchor="middle">Cluster Composition (%)</text>
<text x="575.6" y="299.5" font-size="10.4" font-family="Liberation Sans, sans-serif" fill="#222" text-anchor="middle">Cluster</text>
<text transform="translate(667.6,187.3) scale(0.95,1)" font-size="6.6" font-family="Liberation Sans, sans-serif" fill="#222">Model</text>
<rect x="667.9" y="192.00" width="10" height="10.5" fill="#F0796F"/>
<text x="681.7" y="199.20" font-size="5.3" font-family="Liberation Sans, sans-serif" fill="#111">PDX3</text>
<rect x="667.9" y="203.70" width="10" height="10.5" fill="#A3A23C"/>
<text x="681.7" y="210.90" font-size="5.3" font-family="Liberation Sans, sans-serif" fill="#111">PDX4</text>
<rect x="667.9" y="215.40" width="10" height="10.5" fill="#2FB47A"/>
<text x="681.7" y="222.60" font-size="5.3" font-family="Liberation Sans, sans-serif" fill="#111">PDX2</text>
<rect x="667.9" y="227.10" width="10" height="10.5" fill="#38A6DF"/>
<text x="681.7" y="234.30" font-size="5.3" font-family="Liberation Sans, sans-serif" fill="#111">PDX1</text>
<rect x="667.9" y="238.80" width="10" height="10.5" fill="#B873B8"/>
<text x="681.7" y="246.00" font-size="5.3" font-family="Liberation Sans, sans-serif" fill="#111">MDAMB231</text>
<text x="4.5" y="322" font-size="16" font-family="Liberation Sans, sans-serif" fill="#222">c</text>
<rect x="72.30" y="405.00" width="29.61" height="17.24" fill="#a6cfe4" shape-rendering="crispEdges"/>
<rect x="101.61" y="405.00" width="29.61" height="17.24" fill="#a6cfe4" shape-rendering="crispEdges"/>
<rect x="130.92" y="405.00" width="29.61" height="17.24" fill="#f3a280" shape-rendering="crispEdges"/>
<rect x="160.23" y="405.00" width="29.61" height="17.24" fill="#408fc1" shape-rendering="crispEdges"/>
<rect x="189.54" y="405.00" width="29.61" height="17.24" fill="#f7ba9c" shape-rendering="crispEdges"/>
<rect x="218.85" y="405.00" width="29.61" height="17.24" fill="#f4a784" shape-rendering="crispEdges"/>
<rect x="248.16" y="405.00" width="29.61" height="17.24" fill="#e68569" shape-rendering="crispEdges"/>
<rect x="277.47" y="405.00" width="29.61" height="17.24" fill="#e88a6d" shape-rendering="crispEdges"/>
<rect x="306.78" y="405.00" width="29.61" height="17.24" fill="#f8bda1" shape-rendering="crispEdges"/>
<rect x="336.09" y="405.00" width="29.61" height="17.24" fill="#5da3cc" shape-rendering="crispEdges"/>
<rect x="365.40" y="405.00" width="29.61" height="17.24" fill="#8fc3dd" shape-rendering="crispEdges"/>
<rect x="394.71" y="405.00" width="29.61" height="17.24" fill="#f7ba9c" shape-rendering="crispEdges"/>
<rect x="424.02" y="405.00" width="29.61" height="17.24" fill="#f7ba9c" shape-rendering="crispEdges"/>
<rect x="453.33" y="405.00" width="29.61" height="17.24" fill="#f7ba9c" shape-rendering="crispEdges"/>
<rect x="72.30" y="421.94" width="29.61" height="17.24" fill="#7eb8d7" shape-rendering="crispEdges"/>
<rect x="101.61" y="421.94" width="29.61" height="17.24" fill="#98c8e0" shape-rendering="crispEdges"/>
<rect x="130.92" y="421.94" width="29.61" height="17.24" fill="#fcdfce" shape-rendering="crispEdges"/>
<rect x="160.23" y="421.94" width="29.61" height="17.24" fill="#5da3cc" shape-rendering="crispEdges"/>
<rect x="189.54" y="421.94" width="29.61" height="17.24" fill="#f7ba9c" shape-rendering="crispEdges"/>
<rect x="218.85" y="421.94" width="29.61" height="17.24" fill="#f7b697" shape-rendering="crispEdges"/>
<rect x="248.16" y="421.94" width="29.61" height="17.24" fill="#f3a280" shape-rendering="crispEdges"/>
<rect x="277.47" y="421.94" width="29.61" height="17.24" fill="#d55e4c" shape-rendering="crispEdges"/>
<rect x="306.78" y="421.94" width="29.61" height="17.24" fill="#a6cfe4" shape-rendering="crispEdges"/>
<rect x="336.09" y="421.94" width="29.61" height="17.24" fill="#78b5d5" shape-rendering="crispEdges"/>
<rect x="365.40" y="421.94" width="29.61" height="17.24" fill="#f6b293" shape-rendering="crispEdges"/>
<rect x="394.71" y="421.94" width="29.61" height="17.24" fill="#fac9b0" shape-rendering="crispEdges"/>
<rect x="424.02" y="421.94" width="29.61" height="17.24" fill="#fac9b0" shape-rendering="crispEdges"/>
<rect x="453.33" y="421.94" width="29.61" height="17.24" fill="#f7ba9c" shape-rendering="crispEdges"/>
<rect x="72.30" y="438.88" width="29.61" height="17.24" fill="#f7b697" shape-rendering="crispEdges"/>
<rect x="101.61" y="438.88" width="29.61" height="17.24" fill="#f7b697" shape-rendering="crispEdges"/>
<rect x="130.92" y="438.88" width="29.61" height="17.24" fill="#f7ba9c" shape-rendering="crispEdges"/>
<rect x="160.23" y="438.88" width="29.61" height="17.24" fill="#5da3cc" shape-rendering="crispEdges"/>
<rect x="189.54" y="438.88" width="29.61" height="17.24" fill="#f4a582" shape-rendering="crispEdges"/>
<rect x="218.85" y="438.88" width="29.61" height="17.24" fill="#f7b697" shape-rendering="crispEdges"/>
<rect x="248.16" y="438.88" width="29.61" height="17.24" fill="#e68569" shape-rendering="crispEdges"/>
<rect x="277.47" y="438.88" width="29.61" height="17.24" fill="#d55e4c" shape-rendering="crispEdges"/>
<rect x="306.78" y="438.88" width="29.61" height="17.24" fill="#a6cfe4" shape-rendering="crispEdges"/>
<rect x="336.09" y="438.88" width="29.61" height="17.24" fill="#4695c4" shape-rendering="crispEdges"/>
<rect x="365.40" y="438.88" width="29.61" height="17.24" fill="#8fc3dd" shape-rendering="crispEdges"/>
<rect x="394.71" y="438.88" width="29.61" height="17.24" fill="#fddac6" shape-rendering="crispEdges"/>
<rect x="424.02" y="438.88" width="29.61" height="17.24" fill="#fddac6" shape-rendering="crispEdges"/>
<rect x="453.33" y="438.88" width="29.61" height="17.24" fill="#fbcdb5" shape-rendering="crispEdges"/>
<rect x="72.30" y="455.82" width="29.61" height="17.24" fill="#7eb8d7" shape-rendering="crispEdges"/>
<rect x="101.61" y="455.82" width="29.61" height="17.24" fill="#5da3cc" shape-rendering="crispEdges"/>
<rect x="130.92" y="455.82" width="29.61" height="17.24" fill="#f4a582" shape-rendering="crispEdges"/>
<rect x="160.23" y="455.82" width="29.61" height="17.24" fill="#408fc1" shape-rendering="crispEdges"/>
<rect x="189.54" y="455.82" width="29.61" height="17.24" fill="#7eb8d7" shape-rendering="crispEdges"/>
<rect x="218.85" y="455.82" width="29.61" height="17.24" fill="#f4a582" shape-rendering="crispEdges"/>
<rect x="248.16" y="455.82" width="29.61" height="17.24" fill="#db6d57" shape-rendering="crispEdges"/>
<rect x="277.47" y="455.82" width="29.61" height="17.24" fill="#e88a6d" shape-rendering="crispEdges"/>
<rect x="306.78" y="455.82" width="29.61" height="17.24" fill="#4695c4" shape-rendering="crispEdges"/>
<rect x="336.09" y="455.82" width="29.61" height="17.24" fill="#f7ba9c" shape-rendering="crispEdges"/>
<rect x="365.40" y="455.82" width="29.61" height="17.24" fill="#f7ba9c" shape-rendering="crispEdges"/>
<rect x="394.71" y="455.82" width="29.61" height="17.24" fill="#f4a582" shape-rendering="crispEdges"/>
<rect x="424.02" y="455.82" width="29.61" height="17.24" fill="#f4a582" shape-rendering="crispEdges"/>
<rect x="453.33" y="455.82" width="29.61" height="17.24" fill="#e88a6d" shape-rendering="crispEdges"/>
<rect x="72.30" y="472.76" width="29.61" height="17.24" fill="#a1cde2" shape-rendering="crispEdges"/>
<rect x="101.61" y="472.76" width="29.61" height="17.24" fill="#a1cde2" shape-rendering="crispEdges"/>
<rect x="130.92" y="472.76" width="29.61" height="17.24" fill="#92c5de" shape-rendering="crispEdges"/>
<rect x="160.23" y="472.76" width="29.61" height="17.24" fill="#92c5de" shape-rendering="crispEdges"/>
<rect x="189.54" y="472.76" width="29.61" height="17.24" fill="#f3a280" shape-rendering="crispEdges"/>
<rect x="218.85" y="472.76" width="29.61" height="17.24" fill="#fac9b0" shape-rendering="crispEdges"/>
<rect x="248.16" y="472.76" width="29.61" height="17.24" fill="#f4a582" shape-rendering="crispEdges"/>
<rect x="277.47" y="472.76" width="29.61" height="17.24" fill="#d55e4c" shape-rendering="crispEdges"/>
<rect x="306.78" y="472.76" width="29.61" height="17.24" fill="#fac9b0" shape-rendering="crispEdges"/>
<rect x="336.09" y="472.76" width="29.61" height="17.24" fill="#92c5de" shape-rendering="crispEdges"/>
<rect x="365.40" y="472.76" width="29.61" height="17.24" fill="#f9c5ab" shape-rendering="crispEdges"/>
<rect x="394.71" y="472.76" width="29.61" height="17.24" fill="#92c5de" shape-rendering="crispEdges"/>
<rect x="424.02" y="472.76" width="29.61" height="17.24" fill="#fbe3d5" shape-rendering="crispEdges"/>
<rect x="453.33" y="472.76" width="29.61" height="17.24" fill="#fddbc8" shape-rendering="crispEdges"/>
<rect x="72.30" y="489.70" width="29.61" height="17.24" fill="#9dcae1" shape-rendering="crispEdges"/>
<rect x="101.61" y="489.70" width="29.61" height="17.24" fill="#f7ba9c" shape-rendering="crispEdges"/>
<rect x="130.92" y="489.70" width="29.61" height="17.24" fill="#5da3cc" shape-rendering="crispEdges"/>
<rect x="160.23" y="489.70" width="29.61" height="17.24" fill="#92c5de" shape-rendering="crispEdges"/>
<rect x="189.54" y="489.70" width="29.61" height="17.24" fill="#e88a6d" shape-rendering="crispEdges"/>
<rect x="218.85" y="489.70" width="29.61" height="17.24" fill="#fac9b0" shape-rendering="crispEdges"/>
<rect x="248.16" y="489.70" width="29.61" height="17.24" fill="#f7b697" shape-rendering="crispEdges"/>
<rect x="277.47" y="489.70" width="29.61" height="17.24" fill="#f4a582" shape-rendering="crispEdges"/>
<rect x="306.78" y="489.70" width="29.61" height="17.24" fill="#bcdaea" shape-rendering="crispEdges"/>
<rect x="336.09" y="489.70" width="29.61" height="17.24" fill="#a6cfe4" shape-rendering="crispEdges"/>
<rect x="365.40" y="489.70" width="29.61" height="17.24" fill="#f9c5ab" shape-rendering="crispEdges"/>
<rect x="394.71" y="489.70" width="29.61" height="17.24" fill="#4695c4" shape-rendering="crispEdges"/>
<rect x="424.02" y="489.70" width="29.61" height="17.24" fill="#fbe3d5" shape-rendering="crispEdges"/>
<rect x="453.33" y="489.70" width="29.61" height="17.24" fill="#fddbc8" shape-rendering="crispEdges"/>
<rect x="72.30" y="506.64" width="29.61" height="17.24" fill="#96c7df" shape-rendering="crispEdges"/>
<rect x="101.61" y="506.64" width="29.61" height="17.24" fill="#96c7df" shape-rendering="crispEdges"/>
<rect x="130.92" y="506.64" width="29.61" height="17.24" fill="#7eb8d7" shape-rendering="crispEdges"/>
<rect x="160.23" y="506.64" width="29.61" height="17.24" fill="#7eb8d7" shape-rendering="crispEdges"/>
<rect x="189.54" y="506.64" width="29.61" height="17.24" fill="#fac9b0" shape-rendering="crispEdges"/>
<rect x="218.85" y="506.64" width="29.61" height="17.24" fill="#92c5de" shape-rendering="crispEdges"/>
<rect x="248.16" y="506.64" width="29.61" height="17.24" fill="#f4a582" shape-rendering="crispEdges"/>
<rect x="277.47" y="506.64" width="29.61" height="17.24" fill="#ea8f71" shape-rendering="crispEdges"/>
<rect x="306.78" y="506.64" width="29.61" height="17.24" fill="#a1cde2" shape-rendering="crispEdges"/>
<rect x="336.09" y="506.64" width="29.61" height="17.24" fill="#f7b697" shape-rendering="crispEdges"/>
<rect x="365.40" y="506.64" width="29.61" height="17.24" fill="#f7b697" shape-rendering="crispEdges"/>
<rect x="394.71" y="506.64" width="29.61" height="17.24" fill="#4695c4" shape-rendering="crispEdges"/>
<rect x="424.02" y="506.64" width="29.61" height="17.24" fill="#fcd8c3" shape-rendering="crispEdges"/>
<rect x="453.33" y="506.64" width="29.61" height="17.24" fill="#fac9b0" shape-rendering="crispEdges"/>
<rect x="72.30" y="523.58" width="29.61" height="17.24" fill="#7eb8d7" shape-rendering="crispEdges"/>
<rect x="101.61" y="523.58" width="29.61" height="17.24" fill="#7eb8d7" shape-rendering="crispEdges"/>
<rect x="130.92" y="523.58" width="29.61" height="17.24" fill="#a6cfe4" shape-rendering="crispEdges"/>
<rect x="160.23" y="523.58" width="29.61" height="17.24" fill="#92c5de" shape-rendering="crispEdges"/>
<rect x="189.54" y="523.58" width="29.61" height="17.24" fill="#92c5de" shape-rendering="crispEdges"/>
<rect x="218.85" y="523.58" width="29.61" height="17.24" fill="#92c5de" shape-rendering="crispEdges"/>
<rect x="248.16" y="523.58" width="29.61" height="17.24" fill="#e88a6d" shape-rendering="crispEdges"/>
<rect x="277.47" y="523.58" width="29.61" height="17.24" fill="#d96853" shape-rendering="crispEdges"/>
<rect x="306.78" y="523.58" width="29.61" height="17.24" fill="#bcdaea" shape-rendering="crispEdges"/>
<rect x="336.09" y="523.58" width="29.61" height="17.24" fill="#fac9b0" shape-rendering="crispEdges"/>
<rect x="365.40" y="523.58" width="29.61" height="17.24" fill="#f7b697" shape-rendering="crispEdges"/>
<rect x="394.71" y="523.58" width="29.61" height="17.24" fill="#7eb8d7" shape-rendering="crispEdges"/>
<rect x="424.02" y="523.58" width="29.61" height="17.24" fill="#fac9b0" shape-rendering="crispEdges"/>
<rect x="453.33" y="523.58" width="29.61" height="17.24" fill="#f7b697" shape-rendering="crispEdges"/>
<rect x="72.30" y="540.52" width="29.61" height="17.24" fill="#92c5de" shape-rendering="crispEdges"/>
<rect x="101.61" y="540.52" width="29.61" height="17.24" fill="#a6cfe4" shape-rendering="crispEdges"/>
<rect x="130.92" y="540.52" width="29.61" height="17.24" fill="#92c5de" shape-rendering="crispEdges"/>
<rect x="160.23" y="540.52" width="29.61" height="17.24" fill="#73b1d3" shape-rendering="crispEdges"/>
<rect x="189.54" y="540.52" width="29.61" height="17.24" fill="#f6b293" shape-rendering="crispEdges"/>
<rect x="218.85" y="540.52" width="29.61" height="17.24" fill="#f6b293" shape-rendering="crispEdges"/>
<rect x="248.16" y="540.52" width="29.61" height="17.24" fill="#f4a582" shape-rendering="crispEdges"/>
<rect x="277.47" y="540.52" width="29.61" height="17.24" fill="#e0765e" shape-rendering="crispEdges"/>
<rect x="306.78" y="540.52" width="29.61" height="17.24" fill="#cde3ef" shape-rendering="crispEdges"/>
<rect x="336.09" y="540.52" width="29.61" height="17.24" fill="#92c5de" shape-rendering="crispEdges"/>
<rect x="365.40" y="540.52" width="29.61" height="17.24" fill="#92c5de" shape-rendering="crispEdges"/>
<rect x="394.71" y="540.52" width="29.61" height="17.24" fill="#f9c5ab" shape-rendering="crispEdges"/>
<rect x="424.02" y="540.52" width="29.61" height="17.24" fill="#fbe3d5" shape-rendering="crispEdges"/>
<rect x="453.33" y="540.52" width="29.61" height="17.24" fill="#f7b697" shape-rendering="crispEdges"/>
<rect x="72.30" y="557.46" width="29.61" height="17.24" fill="#7eb8d7" shape-rendering="crispEdges"/>
<rect x="101.61" y="557.46" width="29.61" height="17.24" fill="#92c5de" shape-rendering="crispEdges"/>
<rect x="130.92" y="557.46" width="29.61" height="17.24" fill="#92c5de" shape-rendering="crispEdges"/>
<rect x="160.23" y="557.46" width="29.61" height="17.24" fill="#a6cfe4" shape-rendering="crispEdges"/>
<rect x="189.54" y="557.46" width="29.61" height="17.24" fill="#f9c5ab" shape-rendering="crispEdges"/>
<rect x="218.85" y="557.46" width="29.61" height="17.24" fill="#f9c5ab" shape-rendering="crispEdges"/>
<rect x="248.16" y="557.46" width="29.61" height="17.24" fill="#f7b697" shape-rendering="crispEdges"/>
<rect x="277.47" y="557.46" width="29.61" height="17.24" fill="#e68569" shape-rendering="crispEdges"/>
<rect x="306.78" y="557.46" width="29.61" height="17.24" fill="#de715a" shape-rendering="crispEdges"/>
<rect x="336.09" y="557.46" width="29.61" height="17.24" fill="#92c5de" shape-rendering="crispEdges"/>
<rect x="365.40" y="557.46" width="29.61" height="17.24" fill="#92c5de" shape-rendering="crispEdges"/>
<rect x="394.71" y="557.46" width="29.61" height="17.24" fill="#f9c5ab" shape-rendering="crispEdges"/>
<rect x="424.02" y="557.46" width="29.61" height="17.24" fill="#92c5de" shape-rendering="crispEdges"/>
<rect x="453.33" y="557.46" width="29.61" height="17.24" fill="#fac9b0" shape-rendering="crispEdges"/>
<rect x="72.30" y="574.40" width="29.61" height="17.24" fill="#7eb8d7" shape-rendering="crispEdges"/>
<rect x="101.61" y="574.40" width="29.61" height="17.24" fill="#7eb8d7" shape-rendering="crispEdges"/>
<rect x="130.92" y="574.40" width="29.61" height="17.24" fill="#92c5de" shape-rendering="crispEdges"/>
<rect x="160.23" y="574.40" width="29.61" height="17.24" fill="#a6cfe4" shape-rendering="crispEdges"/>
<rect x="189.54" y="574.40" width="29.61" height="17.24" fill="#a6cfe4" shape-rendering="crispEdges"/>
<rect x="218.85" y="574.40" width="29.61" height="17.24" fill="#f6b293" shape-rendering="crispEdges"/>
<rect x="248.16" y="574.40" width="29.61" height="17.24" fill="#f4a582" shape-rendering="crispEdges"/>
<rect x="277.47" y="574.40" width="29.61" height="17.24" fill="#ea8f71" shape-rendering="crispEdges"/>
<rect x="306.78" y="574.40" width="29.61" height="17.24" fill="#f7b697" shape-rendering="crispEdges"/>
<rect x="336.09" y="574.40" width="29.61" height="17.24" fill="#f7b697" shape-rendering="crispEdges"/>
<rect x="365.40" y="574.40" width="29.61" height="17.24" fill="#a6cfe4" shape-rendering="crispEdges"/>
<rect x="394.71" y="574.40" width="29.61" height="17.24" fill="#5da3cc" shape-rendering="crispEdges"/>
<rect x="424.02" y="574.40" width="29.61" height="17.24" fill="#fac9b0" shape-rendering="crispEdges"/>
<rect x="453.33" y="574.40" width="29.61" height="17.24" fill="#fac9b0" shape-rendering="crispEdges"/>
<rect x="72.30" y="591.34" width="29.61" height="17.24" fill="#62a7ce" shape-rendering="crispEdges"/>
<rect x="101.61" y="591.34" width="29.61" height="17.24" fill="#92c5de" shape-rendering="crispEdges"/>
<rect x="130.92" y="591.34" width="29.61" height="17.24" fill="#78b5d5" shape-rendering="crispEdges"/>
<rect x="160.23" y="591.34" width="29.61" height="17.24" fill="#78b5d5" shape-rendering="crispEdges"/>
<rect x="189.54" y="591.34" width="29.61" height="17.24" fill="#a6cfe4" shape-rendering="crispEdges"/>
<rect x="218.85" y="591.34" width="29.61" height="17.24" fill="#92c5de" shape-rendering="crispEdges"/>
<rect x="248.16" y="591.34" width="29.61" height="17.24" fill="#e88a6d" shape-rendering="crispEdges"/>
<rect x="277.47" y="591.34" width="29.61" height="17.24" fill="#de715a" shape-rendering="crispEdges"/>
<rect x="306.78" y="591.34" width="29.61" height="17.24" fill="#f4a582" shape-rendering="crispEdges"/>
<rect x="336.09" y="591.34" width="29.61" height="17.24" fill="#92c5de" shape-rendering="crispEdges"/>
<rect x="365.40" y="591.34" width="29.61" height="17.24" fill="#73b1d3" shape-rendering="crispEdges"/>
<rect x="394.71" y="591.34" width="29.61" height="17.24" fill="#5da3cc" shape-rendering="crispEdges"/>
<rect x="424.02" y="591.34" width="29.61" height="17.24" fill="#fac9b0" shape-rendering="crispEdges"/>
<rect x="453.33" y="591.34" width="29.61" height="17.24" fill="#f7b697" shape-rendering="crispEdges"/>
<rect x="72.30" y="608.28" width="29.61" height="17.24" fill="#92c5de" shape-rendering="crispEdges"/>
<rect x="101.61" y="608.28" width="29.61" height="17.24" fill="#f7b697" shape-rendering="crispEdges"/>
<rect x="130.92" y="608.28" width="29.61" height="17.24" fill="#f7b697" shape-rendering="crispEdges"/>
<rect x="160.23" y="608.28" width="29.61" height="17.24" fill="#5da3cc" shape-rendering="crispEdges"/>
<rect x="189.54" y="608.28" width="29.61" height="17.24" fill="#5da3cc" shape-rendering="crispEdges"/>
<rect x="218.85" y="608.28" width="29.61" height="17.24" fill="#7eb8d7" shape-rendering="crispEdges"/>
<rect x="248.16" y="608.28" width="29.61" height="17.24" fill="#92c5de" shape-rendering="crispEdges"/>
<rect x="277.47" y="608.28" width="29.61" height="17.24" fill="#5da3cc" shape-rendering="crispEdges"/>
<rect x="306.78" y="608.28" width="29.61" height="17.24" fill="#5da3cc" shape-rendering="crispEdges"/>
<rect x="336.09" y="608.28" width="29.61" height="17.24" fill="#5da3cc" shape-rendering="crispEdges"/>
<rect x="365.40" y="608.28" width="29.61" height="17.24" fill="#5da3cc" shape-rendering="crispEdges"/>
<rect x="394.71" y="608.28" width="29.61" height="17.24" fill="#e88a6d" shape-rendering="crispEdges"/>
<rect x="424.02" y="608.28" width="29.61" height="17.24" fill="#f4a582" shape-rendering="crispEdges"/>
<rect x="453.33" y="608.28" width="29.61" height="17.24" fill="#f4a582" shape-rendering="crispEdges"/>
<rect x="72.30" y="625.22" width="29.61" height="17.24" fill="#5da3cc" shape-rendering="crispEdges"/>
<rect x="101.61" y="625.22" width="29.61" height="17.24" fill="#7eb8d7" shape-rendering="crispEdges"/>
<rect x="130.92" y="625.22" width="29.61" height="17.24" fill="#7eb8d7" shape-rendering="crispEdges"/>
<rect x="160.23" y="625.22" width="29.61" height="17.24" fill="#5da3cc" shape-rendering="crispEdges"/>
<rect x="189.54" y="625.22" width="29.61" height="17.24" fill="#b7212f" shape-rendering="crispEdges"/>
<rect x="218.85" y="625.22" width="29.61" height="17.24" fill="#f7b697" shape-rendering="crispEdges"/>
<rect x="248.16" y="625.22" width="29.61" height="17.24" fill="#e0765e" shape-rendering="crispEdges"/>
<rect x="277.47" y="625.22" width="29.61" height="17.24" fill="#c33a3b" shape-rendering="crispEdges"/>
<rect x="306.78" y="625.22" width="29.61" height="17.24" fill="#f4a582" shape-rendering="crispEdges"/>
<rect x="336.09" y="625.22" width="29.61" height="17.24" fill="#5da3cc" shape-rendering="crispEdges"/>
<rect x="365.40" y="625.22" width="29.61" height="17.24" fill="#92c5de" shape-rendering="crispEdges"/>
<rect x="394.71" y="625.22" width="29.61" height="17.24" fill="#4695c4" shape-rendering="crispEdges"/>
<rect x="424.02" y="625.22" width="29.61" height="17.24" fill="#7eb8d7" shape-rendering="crispEdges"/>
<rect x="453.33" y="625.22" width="29.61" height="17.24" fill="#fac9b0" shape-rendering="crispEdges"/>
<rect x="72.30" y="642.16" width="29.61" height="17.24" fill="#92c5de" shape-rendering="crispEdges"/>
<rect x="101.61" y="642.16" width="29.61" height="17.24" fill="#92c5de" shape-rendering="crispEdges"/>
<rect x="130.92" y="642.16" width="29.61" height="17.24" fill="#5da3cc" shape-rendering="crispEdges"/>
<rect x="160.23" y="642.16" width="29.61" height="17.24" fill="#408fc1" shape-rendering="crispEdges"/>
<rect x="189.54" y="642.16" width="29.61" height="17.24" fill="#d7634f" shape-rendering="crispEdges"/>
<rect x="218.85" y="642.16" width="29.61" height="17.24" fill="#d7634f" shape-rendering="crispEdges"/>
<rect x="248.16" y="642.16" width="29.61" height="17.24" fill="#cb4a42" shape-rendering="crispEdges"/>
<rect x="277.47" y="642.16" width="29.61" height="17.24" fill="#d7634f" shape-rendering="crispEdges"/>
<rect x="306.78" y="642.16" width="29.61" height="17.24" fill="#9f172d" shape-rendering="crispEdges"/>
<rect x="336.09" y="642.16" width="29.61" height="17.24" fill="#2369ad" shape-rendering="crispEdges"/>
<rect x="365.40" y="642.16" width="29.61" height="17.24" fill="#3885bc" shape-rendering="crispEdges"/>
<rect x="394.71" y="642.16" width="29.61" height="17.24" fill="#4695c4" shape-rendering="crispEdges"/>
<rect x="424.02" y="642.16" width="29.61" height="17.24" fill="#2369ad" shape-rendering="crispEdges"/>
<rect x="453.33" y="642.16" width="29.61" height="17.24" fill="#fac9b0" shape-rendering="crispEdges"/>
<rect x="72.30" y="659.10" width="29.61" height="17.24" fill="#7eb8d7" shape-rendering="crispEdges"/>
<rect x="101.61" y="659.10" width="29.61" height="17.24" fill="#7eb8d7" shape-rendering="crispEdges"/>
<rect x="130.92" y="659.10" width="29.61" height="17.24" fill="#a6cfe4" shape-rendering="crispEdges"/>
<rect x="160.23" y="659.10" width="29.61" height="17.24" fill="#a6cfe4" shape-rendering="crispEdges"/>
<rect x="189.54" y="659.10" width="29.61" height="17.24" fill="#7eb8d7" shape-rendering="crispEdges"/>
<rect x="218.85" y="659.10" width="29.61" height="17.24" fill="#fac9b0" shape-rendering="crispEdges"/>
<rect x="248.16" y="659.10" width="29.61" height="17.24" fill="#92c5de" shape-rendering="crispEdges"/>
<rect x="277.47" y="659.10" width="29.61" height="17.24" fill="#92c5de" shape-rendering="crispEdges"/>
<rect x="306.78" y="659.10" width="29.61" height="17.24" fill="#7eb8d7" shape-rendering="crispEdges"/>
<rect x="336.09" y="659.10" width="29.61" height="17.24" fill="#e0765e" shape-rendering="crispEdges"/>
<rect x="365.40" y="659.10" width="29.61" height="17.24" fill="#e88a6d" shape-rendering="crispEdges"/>
<rect x="394.71" y="659.10" width="29.61" height="17.24" fill="#f7b697" shape-rendering="crispEdges"/>
<rect x="424.02" y="659.10" width="29.61" height="17.24" fill="#f7b697" shape-rendering="crispEdges"/>
<rect x="453.33" y="659.10" width="29.61" height="17.24" fill="#f7b697" shape-rendering="crispEdges"/>
<rect x="72.30" y="676.04" width="29.61" height="17.24" fill="#92c5de" shape-rendering="crispEdges"/>
<rect x="101.61" y="676.04" width="29.61" height="17.24" fill="#92c5de" shape-rendering="crispEdges"/>
<rect x="130.92" y="676.04" width="29.61" height="17.24" fill="#92c5de" shape-rendering="crispEdges"/>
<rect x="160.23" y="676.04" width="29.61" height="17.24" fill="#92c5de" shape-rendering="crispEdges"/>
<rect x="189.54" y="676.04" width="29.61" height="17.24" fill="#7eb8d7" shape-rendering="crispEdges"/>
<rect x="218.85" y="676.04" width="29.61" height="17.24" fill="#5da3cc" shape-rendering="crispEdges"/>
<rect x="248.16" y="676.04" width="29.61" height="17.24" fill="#5da3cc" shape-rendering="crispEdges"/>
<rect x="277.47" y="676.04" width="29.61" height="17.24" fill="#4695c4" shape-rendering="crispEdges"/>
<rect x="306.78" y="676.04" width="29.61" height="17.24" fill="#7eb8d7" shape-rendering="crispEdges"/>
<rect x="336.09" y="676.04" width="29.61" height="17.24" fill="#92c5de" shape-rendering="crispEdges"/>
<rect x="365.40" y="676.04" width="29.61" height="17.24" fill="#fac9b0" shape-rendering="crispEdges"/>
<rect x="394.71" y="676.04" width="29.61" height="17.24" fill="#f4a582" shape-rendering="crispEdges"/>
<rect x="424.02" y="676.04" width="29.61" height="17.24" fill="#f4a582" shape-rendering="crispEdges"/>
<rect x="453.33" y="676.04" width="29.61" height="17.24" fill="#f7b697" shape-rendering="crispEdges"/>
<rect x="72.30" y="692.98" width="29.61" height="17.24" fill="#7eb8d7" shape-rendering="crispEdges"/>
<rect x="101.61" y="692.98" width="29.61" height="17.24" fill="#7eb8d7" shape-rendering="crispEdges"/>
<rect x="130.92" y="692.98" width="29.61" height="17.24" fill="#f7b697" shape-rendering="crispEdges"/>
<rect x="160.23" y="692.98" width="29.61" height="17.24" fill="#bcdaea" shape-rendering="crispEdges"/>
<rect x="189.54" y="692.98" width="29.61" height="17.24" fill="#5da3cc" shape-rendering="crispEdges"/>
<rect x="218.85" y="692.98" width="29.61" height="17.24" fill="#5da3cc" shape-rendering="crispEdges"/>
<rect x="248.16" y="692.98" width="29.61" height="17.24" fill="#3682ba" shape-rendering="crispEdges"/>
<rect x="277.47" y="692.98" width="29.61" height="17.24" fill="#5da3cc" shape-rendering="crispEdges"/>
<rect x="306.78" y="692.98" width="29.61" height="17.24" fill="#7eb8d7" shape-rendering="crispEdges"/>
<rect x="336.09" y="692.98" width="29.61" height="17.24" fill="#f4a582" shape-rendering="crispEdges"/>
<rect x="365.40" y="692.98" width="29.61" height="17.24" fill="#e0765e" shape-rendering="crispEdges"/>
<rect x="394.71" y="692.98" width="29.61" height="17.24" fill="#e88a6d" shape-rendering="crispEdges"/>
<rect x="424.02" y="692.98" width="29.61" height="17.24" fill="#f4a582" shape-rendering="crispEdges"/>
<rect x="453.33" y="692.98" width="29.61" height="17.24" fill="#f4a582" shape-rendering="crispEdges"/>
<rect x="72.30" y="709.92" width="29.61" height="17.24" fill="#5da3cc" shape-rendering="crispEdges"/>
<rect x="101.61" y="709.92" width="29.61" height="17.24" fill="#5da3cc" shape-rendering="crispEdges"/>
<rect x="130.92" y="709.92" width="29.61" height="17.24" fill="#7eb8d7" shape-rendering="crispEdges"/>
<rect x="160.23" y="709.92" width="29.61" height="17.24" fill="#7eb8d7" shape-rendering="crispEdges"/>
<rect x="189.54" y="709.92" width="29.61" height="17.24" fill="#7eb8d7" shape-rendering="crispEdges"/>
<rect x="218.85" y="709.92" width="29.61" height="17.24" fill="#7eb8d7" shape-rendering="crispEdges"/>
<rect x="248.16" y="709.92" width="29.61" height="17.24" fill="#5da3cc" shape-rendering="crispEdges"/>
<rect x="277.47" y="709.92" width="29.61" height="17.24" fill="#92c5de" shape-rendering="crispEdges"/>
<rect x="306.78" y="709.92" width="29.61" height="17.24" fill="#5da3cc" shape-rendering="crispEdges"/>
<rect x="336.09" y="709.92" width="29.61" height="17.24" fill="#e88a6d" shape-rendering="crispEdges"/>
<rect x="365.40" y="709.92" width="29.61" height="17.24" fill="#cd4f45" shape-rendering="crispEdges"/>
<rect x="394.71" y="709.92" width="29.61" height="17.24" fill="#e88a6d" shape-rendering="crispEdges"/>
<rect x="424.02" y="709.92" width="29.61" height="17.24" fill="#f4a582" shape-rendering="crispEdges"/>
<rect x="453.33" y="709.92" width="29.61" height="17.24" fill="#f4a582" shape-rendering="crispEdges"/>
<rect x="72.30" y="726.86" width="29.61" height="17.24" fill="#317cb7" shape-rendering="crispEdges"/>
<rect x="101.61" y="726.86" width="29.61" height="17.24" fill="#4695c4" shape-rendering="crispEdges"/>
<rect x="130.92" y="726.86" width="29.61" height="17.24" fill="#5da3cc" shape-rendering="crispEdges"/>
<rect x="160.23" y="726.86" width="29.61" height="17.24" fill="#5da3cc" shape-rendering="crispEdges"/>
<rect x="189.54" y="726.86" width="29.61" height="17.24" fill="#92c5de" shape-rendering="crispEdges"/>
<rect x="218.85" y="726.86" width="29.61" height="17.24" fill="#5da3cc" shape-rendering="crispEdges"/>
<rect x="248.16" y="726.86" width="29.61" height="17.24" fill="#5da3cc" shape-rendering="crispEdges"/>
<rect x="277.47" y="726.86" width="29.61" height="17.24" fill="#7eb8d7" shape-rendering="crispEdges"/>
<rect x="306.78" y="726.86" width="29.61" height="17.24" fill="#7eb8d7" shape-rendering="crispEdges"/>
<rect x="336.09" y="726.86" width="29.61" height="17.24" fill="#e88a6d" shape-rendering="crispEdges"/>
<rect x="365.40" y="726.86" width="29.61" height="17.24" fill="#e0765e" shape-rendering="crispEdges"/>
<rect x="394.71" y="726.86" width="29.61" height="17.24" fill="#e0765e" shape-rendering="crispEdges"/>
<rect x="424.02" y="726.86" width="29.61" height="17.24" fill="#e68569" shape-rendering="crispEdges"/>
<rect x="453.33" y="726.86" width="29.61" height="17.24" fill="#e68569" shape-rendering="crispEdges"/>
<rect x="72.30" y="743.80" width="29.61" height="17.24" fill="#317cb7" shape-rendering="crispEdges"/>
<rect x="101.61" y="743.80" width="29.61" height="17.24" fill="#317cb7" shape-rendering="crispEdges"/>
<rect x="130.92" y="743.80" width="29.61" height="17.24" fill="#4695c4" shape-rendering="crispEdges"/>
<rect x="160.23" y="743.80" width="29.61" height="17.24" fill="#e0765e" shape-rendering="crispEdges"/>
<rect x="189.54" y="743.80" width="29.61" height="17.24" fill="#317cb7" shape-rendering="crispEdges"/>
<rect x="218.85" y="743.80" width="29.61" height="17.24" fill="#3885bc" shape-rendering="crispEdges"/>
<rect x="248.16" y="743.80" width="29.61" height="17.24" fill="#3885bc" shape-rendering="crispEdges"/>
<rect x="277.47" y="743.80" width="29.61" height="17.24" fill="#3682ba" shape-rendering="crispEdges"/>
<rect x="306.78" y="743.80" width="29.61" height="17.24" fill="#7eb8d7" shape-rendering="crispEdges"/>
<rect x="336.09" y="743.80" width="29.61" height="17.24" fill="#9f172d" shape-rendering="crispEdges"/>
<rect x="365.40" y="743.80" width="29.61" height="17.24" fill="#c33a3b" shape-rendering="crispEdges"/>
<rect x="394.71" y="743.80" width="29.61" height="17.24" fill="#e0765e" shape-rendering="crispEdges"/>
<rect x="424.02" y="743.80" width="29.61" height="17.24" fill="#e88a6d" shape-rendering="crispEdges"/>
<rect x="453.33" y="743.80" width="29.61" height="17.24" fill="#f4a582" shape-rendering="crispEdges"/>
<rect x="72.30" y="760.74" width="29.61" height="17.24" fill="#5da3cc" shape-rendering="crispEdges"/>
<rect x="101.61" y="760.74" width="29.61" height="17.24" fill="#92c5de" shape-rendering="crispEdges"/>
<rect x="130.92" y="760.74" width="29.61" height="17.24" fill="#2c75b4" shape-rendering="crispEdges"/>
<rect x="160.23" y="760.74" width="29.61" height="17.24" fill="#bcdaea" shape-rendering="crispEdges"/>
<rect x="189.54" y="760.74" width="29.61" height="17.24" fill="#317cb7" shape-rendering="crispEdges"/>
<rect x="218.85" y="760.74" width="29.61" height="17.24" fill="#5da3cc" shape-rendering="crispEdges"/>
<rect x="248.16" y="760.74" width="29.61" height="17.24" fill="#4695c4" shape-rendering="crispEdges"/>
<rect x="277.47" y="760.74" width="29.61" height="17.24" fill="#4292c2" shape-rendering="crispEdges"/>
<rect x="306.78" y="760.74" width="29.61" height="17.24" fill="#f7b697" shape-rendering="crispEdges"/>
<rect x="336.09" y="760.74" width="29.61" height="17.24" fill="#e88a6d" shape-rendering="crispEdges"/>
<rect x="365.40" y="760.74" width="29.61" height="17.24" fill="#f4a582" shape-rendering="crispEdges"/>
<rect x="394.71" y="760.74" width="29.61" height="17.24" fill="#e0765e" shape-rendering="crispEdges"/>
<rect x="424.02" y="760.74" width="29.61" height="17.24" fill="#f4a582" shape-rendering="crispEdges"/>
<rect x="453.33" y="760.74" width="29.61" height="17.24" fill="#f4a582" shape-rendering="crispEdges"/>
<rect x="72.30" y="777.68" width="29.61" height="17.24" fill="#2c75b4" shape-rendering="crispEdges"/>
<rect x="101.61" y="777.68" width="29.61" height="17.24" fill="#3885bc" shape-rendering="crispEdges"/>
<rect x="130.92" y="777.68" width="29.61" height="17.24" fill="#4695c4" shape-rendering="crispEdges"/>
<rect x="160.23" y="777.68" width="29.61" height="17.24" fill="#92c5de" shape-rendering="crispEdges"/>
<rect x="189.54" y="777.68" width="29.61" height="17.24" fill="#2369ad" shape-rendering="crispEdges"/>
<rect x="218.85" y="777.68" width="29.61" height="17.24" fill="#1a437b" shape-rendering="crispEdges"/>
<rect x="248.16" y="777.68" width="29.61" height="17.24" fill="#1e5695" shape-rendering="crispEdges"/>
<rect x="277.47" y="777.68" width="29.61" height="17.24" fill="#2369ad" shape-rendering="crispEdges"/>
<rect x="306.78" y="777.68" width="29.61" height="17.24" fill="#7eb8d7" shape-rendering="crispEdges"/>
<rect x="336.09" y="777.68" width="29.61" height="17.24" fill="#b92632" shape-rendering="crispEdges"/>
<rect x="365.40" y="777.68" width="29.61" height="17.24" fill="#b92632" shape-rendering="crispEdges"/>
<rect x="394.71" y="777.68" width="29.61" height="17.24" fill="#d7634f" shape-rendering="crispEdges"/>
<rect x="424.02" y="777.68" width="29.61" height="17.24" fill="#e0765e" shape-rendering="crispEdges"/>
<rect x="453.33" y="777.68" width="29.61" height="17.24" fill="#e68569" shape-rendering="crispEdges"/>
<rect x="72.30" y="794.62" width="29.61" height="17.24" fill="#4695c4" shape-rendering="crispEdges"/>
<rect x="101.61" y="794.62" width="29.61" height="17.24" fill="#92c5de" shape-rendering="crispEdges"/>
<rect x="130.92" y="794.62" width="29.61" height="17.24" fill="#4695c4" shape-rendering="crispEdges"/>
<rect x="160.23" y="794.62" width="29.61" height="17.24" fill="#7eb8d7" shape-rendering="crispEdges"/>
<rect x="189.54" y="794.62" width="29.61" height="17.24" fill="#3682ba" shape-rendering="crispEdges"/>
<rect x="218.85" y="794.62" width="29.61" height="17.24" fill="#2369ad" shape-rendering="crispEdges"/>
<rect x="248.16" y="794.62" width="29.61" height="17.24" fill="#2369ad" shape-rendering="crispEdges"/>
<rect x="277.47" y="794.62" width="29.61" height="17.24" fill="#1e5695" shape-rendering="crispEdges"/>
<rect x="306.78" y="794.62" width="29.61" height="17.24" fill="#92c5de" shape-rendering="crispEdges"/>
<rect x="336.09" y="794.62" width="29.61" height="17.24" fill="#f4a582" shape-rendering="crispEdges"/>
<rect x="365.40" y="794.62" width="29.61" height="17.24" fill="#e88a6d" shape-rendering="crispEdges"/>
<rect x="394.71" y="794.62" width="29.61" height="17.24" fill="#cd4f45" shape-rendering="crispEdges"/>
<rect x="424.02" y="794.62" width="29.61" height="17.24" fill="#e0765e" shape-rendering="crispEdges"/>
<rect x="453.33" y="794.62" width="29.61" height="17.24" fill="#e68569" shape-rendering="crispEdges"/>
<rect x="72.30" y="811.56" width="29.61" height="17.24" fill="#3885bc" shape-rendering="crispEdges"/>
<rect x="101.61" y="811.56" width="29.61" height="17.24" fill="#7eb8d7" shape-rendering="crispEdges"/>
<rect x="130.92" y="811.56" width="29.61" height="17.24" fill="#3885bc" shape-rendering="crispEdges"/>
<rect x="160.23" y="811.56" width="29.61" height="17.24" fill="#7eb8d7" shape-rendering="crispEdges"/>
<rect x="189.54" y="811.56" width="29.61" height="17.24" fill="#2369ad" shape-rendering="crispEdges"/>
<rect x="218.85" y="811.56" width="29.61" height="17.24" fill="#1a437b" shape-rendering="crispEdges"/>
<rect x="248.16" y="811.56" width="29.61" height="17.24" fill="#183a6e" shape-rendering="crispEdges"/>
<rect x="277.47" y="811.56" width="29.61" height="17.24" fill="#183a6e" shape-rendering="crispEdges"/>
<rect x="306.78" y="811.56" width="29.61" height="17.24" fill="#7eb8d7" shape-rendering="crispEdges"/>
<rect x="336.09" y="811.56" width="29.61" height="17.24" fill="#e68569" shape-rendering="crispEdges"/>
<rect x="365.40" y="811.56" width="29.61" height="17.24" fill="#db6d57" shape-rendering="crispEdges"/>
<rect x="394.71" y="811.56" width="29.61" height="17.24" fill="#b92632" shape-rendering="crispEdges"/>
<rect x="424.02" y="811.56" width="29.61" height="17.24" fill="#e0765e" shape-rendering="crispEdges"/>
<rect x="453.33" y="811.56" width="29.61" height="17.24" fill="#e68569" shape-rendering="crispEdges"/>
<text transform="translate(489.3,417.02) scale(0.956,1)" font-size="10.3" font-family="Liberation Sans, sans-serif" fill="#111">TGF_BETA_SIGNALING</text>
<text transform="translate(489.3,433.96) scale(0.956,1)" font-size="10.3" font-family="Liberation Sans, sans-serif" fill="#111">IL2_STAT5_SIGNALING</text>
<text transform="translate(489.3,450.90) scale(0.956,1)" font-size="10.3" font-family="Liberation Sans, sans-serif" fill="#111">UV_RESPONSE_DN</text>
<text transform="translate(489.3,467.84) scale(0.956,1)" font-size="10.3" font-family="Liberation Sans, sans-serif" fill="#111">PROTEIN_SECRETION</text>
<text transform="translate(489.3,484.78) scale(0.956,1)" font-size="10.3" font-family="Liberation Sans, sans-serif" fill="#111">KRAS_SIGNALING_UP</text>
<text transform="translate(489.3,501.72) scale(0.956,1)" font-size="10.3" font-family="Liberation Sans, sans-serif" fill="#111">EPITHELIAL_MESENCHYMAL_TRANSITION</text>
<text transform="translate(489.3,518.66) scale(0.956,1)" font-size="10.3" font-family="Liberation Sans, sans-serif" fill="#111">COAGULATION</text>
<text transform="translate(489.3,535.60) scale(0.956,1)" font-size="10.3" font-family="Liberation Sans, sans-serif" fill="#111">COMPLEMENT</text>
<text transform="translate(489.3,552.54) scale(0.956,1)" font-size="10.3" font-family="Liberation Sans, sans-serif" fill="#111">INFLAMMATORY_RESPONSE</text>
<text transform="translate(489.3,569.48) scale(0.956,1)" font-size="10.3" font-family="Liberation Sans, sans-serif" fill="#111">P53_PATHWAY</text>
<text transform="translate(489.3,586.42) scale(0.956,1)" font-size="10.3" font-family="Liberation Sans, sans-serif" fill="#111">INTERFERON_GAMMA_RESPONSE</text>
<text transform="translate(489.3,603.36) scale(0.956,1)" font-size="10.3" font-family="Liberation Sans, sans-serif" fill="#111">APOPTOSIS</text>
<text transform="translate(489.3,620.30) scale(0.956,1)" font-size="10.3" font-family="Liberation Sans, sans-serif" fill="#111">MITOTIC_SPINDLE</text>
<text transform="translate(489.3,637.24) scale(0.956,1)" font-size="10.3" font-family="Liberation Sans, sans-serif" fill="#111">HYPOXIA</text>
<text transform="translate(489.3,654.18) scale(0.956,1)" font-size="10.3" font-family="Liberation Sans, sans-serif" fill="#111">TNFA_SIGNALING_VIA_NFKB</text>
<text transform="translate(489.3,671.12) scale(0.956,1)" font-size="10.3" font-family="Liberation Sans, sans-serif" fill="#111">ADIPOGENESIS</text>
<text transform="translate(489.3,688.06) scale(0.956,1)" font-size="10.3" font-family="Liberation Sans, sans-serif" fill="#111">SPERMATOGENESIS</text>
<text transform="translate(489.3,705.00) scale(0.956,1)" font-size="10.3" font-family="Liberation Sans, sans-serif" fill="#111">DNA_REPAIR</text>
<text transform="translate(489.3,721.94) scale(0.956,1)" font-size="10.3" font-family="Liberation Sans, sans-serif" fill="#111">FATTY_ACID_METABOLISM</text>
<text transform="translate(489.3,738.88) scale(0.956,1)" font-size="10.3" font-family="Liberation Sans, sans-serif" fill="#111">MTORC1_SIGNALING</text>
<text transform="translate(489.3,755.82) scale(0.956,1)" font-size="10.3" font-family="Liberation Sans, sans-serif" fill="#111">OXIDATIVE_PHOSPHORYLATION</text>
<text transform="translate(489.3,772.76) scale(0.956,1)" font-size="10.3" font-family="Liberation Sans, sans-serif" fill="#111">MYC_TARGETS_V2</text>
<text transform="translate(489.3,789.70) scale(0.956,1)" font-size="10.3" font-family="Liberation Sans, sans-serif" fill="#111">MYC_TARGETS_V1</text>
<text transform="translate(489.3,806.64) scale(0.956,1)" font-size="10.3" font-family="Liberation Sans, sans-serif" fill="#111">G2M_CHECKPOINT</text>
<text transform="translate(489.3,823.58) scale(0.956,1)" font-size="10.3" font-family="Liberation Sans, sans-serif" fill="#111">E2F_TARGETS</text>
<text x="86.86" y="844.2" font-size="12.6" font-family="Liberation Sans, sans-serif" fill="#222" text-anchor="middle">C8</text>
<text x="116.16" y="844.2" font-size="12.6" font-family="Liberation Sans, sans-serif" fill="#222" text-anchor="middle">C14</text>
<text x="145.47" y="844.2" font-size="12.6" font-family="Liberation Sans, sans-serif" fill="#222" text-anchor="middle">C3</text>
<text x="174.78" y="844.2" font-size="12.6" font-family="Liberation Sans, sans-serif" fill="#222" text-anchor="middle">C6</text>
<text x="204.09" y="844.2" font-size="12.6" font-family="Liberation Sans, sans-serif" fill="#222" text-anchor="middle">C13</text>
<text x="233.41" y="844.2" font-size="12.6" font-family="Liberation Sans, sans-serif" fill="#222" text-anchor="middle">C1</text>
<text x="262.71" y="844.2" font-size="12.6" font-family="Liberation Sans, sans-serif" fill="#222" text-anchor="middle">C5</text>
<text x="292.02" y="844.2" font-size="12.6" font-family="Liberation Sans, sans-serif" fill="#222" text-anchor="middle">C10</text>
<text x="321.33" y="844.2" font-size="12.6" font-family="Liberation Sans, sans-serif" fill="#222" text-anchor="middle">C2</text>
<text x="350.64" y="844.2" font-size="12.6" font-family="Liberation Sans, sans-serif" fill="#222" text-anchor="middle">C7</text>
<text x="379.95" y="844.2" font-size="12.6" font-family="Liberation Sans, sans-serif" fill="#222" text-anchor="middle">C11</text>
<text x="409.26" y="844.2" font-size="12.6" font-family="Liberation Sans, sans-serif" fill="#222" text-anchor="middle">C12</text>
<text x="438.57" y="844.2" font-size="12.6" font-family="Liberation Sans, sans-serif" fill="#222" text-anchor="middle">C9</text>
<text x="467.88" y="844.2" font-size="12.6" font-family="Liberation Sans, sans-serif" fill="#222" text-anchor="middle">C4</text>
<rect x="74.3" y="857.0" width="112.6" height="4.6" fill="#111"/>
<text x="131.0" y="887.7" font-size="24.9" font-weight="bold" font-family="Liberation Sans, sans-serif" fill="#111" text-anchor="middle">A</text>
<rect x="195.1" y="857.0" width="138.1" height="4.6" fill="#111"/>
<text x="267.2" y="887.7" font-size="24.9" font-weight="bold" font-family="Liberation Sans, sans-serif" fill="#111" text-anchor="middle">B</text>
<rect x="340.8" y="857.0" width="138.4" height="4.6" fill="#111"/>
<text x="412.3" y="887.7" font-size="24.9" font-weight="bold" font-family="Liberation Sans, sans-serif" fill="#111" text-anchor="middle">C</text>
<path d="M86.95 398.00L86.95 384.40 M116.26 398.00L116.26 384.40 M86.95 384.40L116.26 384.40 M101.61 384.40L101.61 375.90 M145.57 398.00L145.57 375.90 M101.61 375.90L145.57 375.90 M123.59 375.90L123.59 368.20 M174.88 398.00L174.88 368.20 M123.59 368.20L174.88 368.20 M204.19 398.00L204.19 378.60 M233.50 398.00L233.50 378.60 M204.19 378.60L233.50 378.60 M262.81 398.00L262.81 391.50 M292.12 398.00L292.12 391.50 M262.81 391.50L292.12 391.50 M218.85 378.60L218.85 374.70 M277.47 391.50L277.47 374.70 M218.85 374.70L277.47 374.70 M248.16 374.70L248.16 365.50 M321.44 398.00L321.44 365.50 M248.16 365.50L321.44 365.50 M350.75 398.00L350.75 379.00 M380.06 398.00L380.06 379.00 M350.75 379.00L380.06 379.00 M438.68 398.00L438.68 379.30 M467.99 398.00L467.99 379.30 M438.68 379.30L467.99 379.30 M409.37 398.00L409.37 370.70 M453.33 379.30L453.33 370.70 M409.37 370.70L453.33 370.70 M365.40 379.00L365.40 364.40 M431.35 370.70L431.35 364.40 M365.40 364.40L431.35 364.40 M149.24 368.20L149.24 348.30 M284.80 365.50L284.80 348.30 M149.24 348.30L284.80 348.30 M217.02 348.30L217.02 339.00 M398.37 364.40L398.37 339.00 M217.02 339.00L398.37 339.00 M65.30 413.47L50.30 413.47 M65.30 430.41L50.30 430.41 M50.30 413.47L50.30 430.41 M50.30 421.94L47.00 421.94 M65.30 447.35L47.00 447.35 M47.00 421.94L47.00 447.35 M47.00 434.65L38.00 434.65 M65.30 464.29L38.00 464.29 M38.00 434.65L38.00 464.29 M65.30 481.23L52.40 481.23 M65.30 498.17L52.40 498.17 M52.40 481.23L52.40 498.17 M65.30 515.11L55.10 515.11 M65.30 532.05L55.10 532.05 M55.10 515.11L55.10 532.05 M52.40 489.70L43.80 489.70 M55.10 523.58L43.80 523.58 M43.80 489.70L43.80 523.58 M65.30 548.99L51.90 548.99 M65.30 565.93L51.90 565.93 M51.90 548.99L51.90 565.93 M65.30 582.87L51.00 582.87 M65.30 599.81L51.00 599.81 M51.00 582.87L51.00 599.81 M51.90 557.46L45.20 557.46 M51.00 591.34L45.20 591.34 M45.20 557.46L45.20 591.34 M43.80 506.64L39.40 506.64 M45.20 574.40L39.40 574.40 M39.40 506.64L39.40 574.40 M38.00 449.47L34.60 449.47 M39.40 540.52L34.60 540.52 M34.60 449.47L34.60 540.52 M34.60 494.99L29.30 494.99 M65.30 616.75L29.30 616.75 M29.30 494.99L29.30 616.75 M65.30 633.69L54.30 633.69 M65.30 650.63L54.30 650.63 M54.30 633.69L54.30 650.63 M29.30 555.87L18.60 555.87 M54.30 642.16L18.60 642.16 M18.60 555.87L18.60 642.16 M65.30 718.39L61.30 718.39 M65.30 735.33L61.30 735.33 M61.30 718.39L61.30 735.33 M65.30 701.45L51.90 701.45 M61.30 726.86L51.90 726.86 M51.90 701.45L51.90 726.86 M65.30 684.51L49.40 684.51 M51.90 714.16L49.40 714.16 M49.40 684.51L49.40 714.16 M65.30 667.57L47.60 667.57 M49.40 699.33L47.60 699.33 M47.60 667.57L47.60 699.33 M65.30 803.09L59.40 803.09 M65.30 820.03L59.40 820.03 M59.40 803.09L59.40 820.03 M65.30 786.15L56.30 786.15 M59.40 811.56L56.30 811.56 M56.30 786.15L56.30 811.56 M65.30 769.21L49.00 769.21 M56.30 798.86L49.00 798.86 M49.00 769.21L49.00 798.86 M65.30 752.27L46.70 752.27 M49.00 784.03L46.70 784.03 M46.70 752.27L46.70 784.03 M47.60 683.45L40.50 683.45 M46.70 768.15L40.50 768.15 M40.50 683.45L40.50 768.15 M18.60 599.02L6.60 599.02 M40.50 725.80L6.60 725.80 M6.60 599.02L6.60 725.80" stroke="#3a3a3a" stroke-width="1.1" fill="none" stroke-linecap="square"/>
<rect x="666.0" y="644.20" width="11.8" height="4.92" fill="#85152f" shape-rendering="crispEdges"/>
<rect x="666.0" y="648.82" width="11.8" height="4.92" fill="#92162e" shape-rendering="crispEdges"/>
<rect x="666.0" y="653.44" width="11.8" height="4.92" fill="#9f172d" shape-rendering="crispEdges"/>
<rect x="666.0" y="658.05" width="11.8" height="4.92" fill="#ac182c" shape-rendering="crispEdges"/>
<rect x="666.0" y="662.67" width="11.8" height="4.92" fill="#b6212f" shape-rendering="crispEdges"/>
<rect x="666.0" y="667.29" width="11.8" height="4.92" fill="#c03338" shape-rendering="crispEdges"/>
<rect x="666.0" y="671.91" width="11.8" height="4.92" fill="#c84540" shape-rendering="crispEdges"/>
<rect x="666.0" y="676.52" width="11.8" height="4.92" fill="#d25749" shape-rendering="crispEdges"/>
<rect x="666.0" y="681.14" width="11.8" height="4.92" fill="#da6954" shape-rendering="crispEdges"/>
<rect x="666.0" y="685.76" width="11.8" height="4.92" fill="#e17a61" shape-rendering="crispEdges"/>
<rect x="666.0" y="690.38" width="11.8" height="4.92" fill="#e98b6e" shape-rendering="crispEdges"/>
<rect x="666.0" y="694.99" width="11.8" height="4.92" fill="#f09c7b" shape-rendering="crispEdges"/>
<rect x="666.0" y="699.61" width="11.8" height="4.92" fill="#f5ac8b" shape-rendering="crispEdges"/>
<rect x="666.0" y="704.23" width="11.8" height="4.92" fill="#f7b99c" shape-rendering="crispEdges"/>
<rect x="666.0" y="708.85" width="11.8" height="4.92" fill="#fac7ad" shape-rendering="crispEdges"/>
<rect x="666.0" y="713.46" width="11.8" height="4.92" fill="#fcd4be" shape-rendering="crispEdges"/>
<rect x="666.0" y="718.08" width="11.8" height="4.92" fill="#fcdecd" shape-rendering="crispEdges"/>
<rect x="666.0" y="722.70" width="11.8" height="4.92" fill="#fbe6d9" shape-rendering="crispEdges"/>
<rect x="666.0" y="727.32" width="11.8" height="4.92" fill="#f9ece5" shape-rendering="crispEdges"/>
<rect x="666.0" y="731.93" width="11.8" height="4.92" fill="#f8f3f1" shape-rendering="crispEdges"/>
<rect x="666.0" y="736.55" width="11.8" height="4.92" fill="#f2f5f6" shape-rendering="crispEdges"/>
<rect x="666.0" y="741.17" width="11.8" height="4.92" fill="#e9f0f4" shape-rendering="crispEdges"/>
<rect x="666.0" y="745.78" width="11.8" height="4.92" fill="#dfecf3" shape-rendering="crispEdges"/>
<rect x="666.0" y="750.40" width="11.8" height="4.92" fill="#d6e7f1" shape-rendering="crispEdges"/>
<rect x="666.0" y="755.02" width="11.8" height="4.92" fill="#c9e1ee" shape-rendering="crispEdges"/>
<rect x="666.0" y="759.64" width="11.8" height="4.92" fill="#b9d9e9" shape-rendering="crispEdges"/>
<rect x="666.0" y="764.25" width="11.8" height="4.92" fill="#aad1e5" shape-rendering="crispEdges"/>
<rect x="666.0" y="768.87" width="11.8" height="4.92" fill="#9ac9e0" shape-rendering="crispEdges"/>
<rect x="666.0" y="773.49" width="11.8" height="4.92" fill="#88bfdb" shape-rendering="crispEdges"/>
<rect x="666.0" y="778.11" width="11.8" height="4.92" fill="#74b2d4" shape-rendering="crispEdges"/>
<rect x="666.0" y="782.73" width="11.8" height="4.92" fill="#61a6cd" shape-rendering="crispEdges"/>
<rect x="666.0" y="787.34" width="11.8" height="4.92" fill="#4d99c6" shape-rendering="crispEdges"/>
<rect x="666.0" y="791.96" width="11.8" height="4.92" fill="#3f8dc0" shape-rendering="crispEdges"/>
<rect x="666.0" y="796.58" width="11.8" height="4.92" fill="#3682ba" shape-rendering="crispEdges"/>
<rect x="666.0" y="801.19" width="11.8" height="4.92" fill="#2e77b5" shape-rendering="crispEdges"/>
<rect x="666.0" y="805.81" width="11.8" height="4.92" fill="#256caf" shape-rendering="crispEdges"/>
<rect x="666.0" y="810.43" width="11.8" height="4.92" fill="#2060a4" shape-rendering="crispEdges"/>
<rect x="666.0" y="815.05" width="11.8" height="4.92" fill="#1e5595" shape-rendering="crispEdges"/>
<rect x="666.0" y="819.66" width="11.8" height="4.92" fill="#1b4b85" shape-rendering="crispEdges"/>
<rect x="666.0" y="824.28" width="11.8" height="4.92" fill="#194076" shape-rendering="crispEdges"/>
<text x="681.0" y="663.4" font-size="11.2" font-family="Liberation Sans, sans-serif" fill="#1a1a1a">3</text>
<text x="681.0" y="689.4" font-size="11.2" font-family="Liberation Sans, sans-serif" fill="#1a1a1a">2</text>
<text x="681.0" y="715.4" font-size="11.2" font-family="Liberation Sans, sans-serif" fill="#1a1a1a">1</text>
<text x="681.0" y="741.4" font-size="11.2" font-family="Liberation Sans, sans-serif" fill="#1a1a1a">0</text>
<text x="681.0" y="767.4" font-size="11.2" font-family="Liberation Sans, sans-serif" fill="#1a1a1a">−1</text>
<text x="681.0" y="793.9" font-size="11.2" font-family="Liberation Sans, sans-serif" fill="#1a1a1a">−2</text>
<text x="681.0" y="819.3" font-size="11.2" font-family="Liberation Sans, sans-serif" fill="#1a1a1a">−3</text>
</svg>
</body></html>
